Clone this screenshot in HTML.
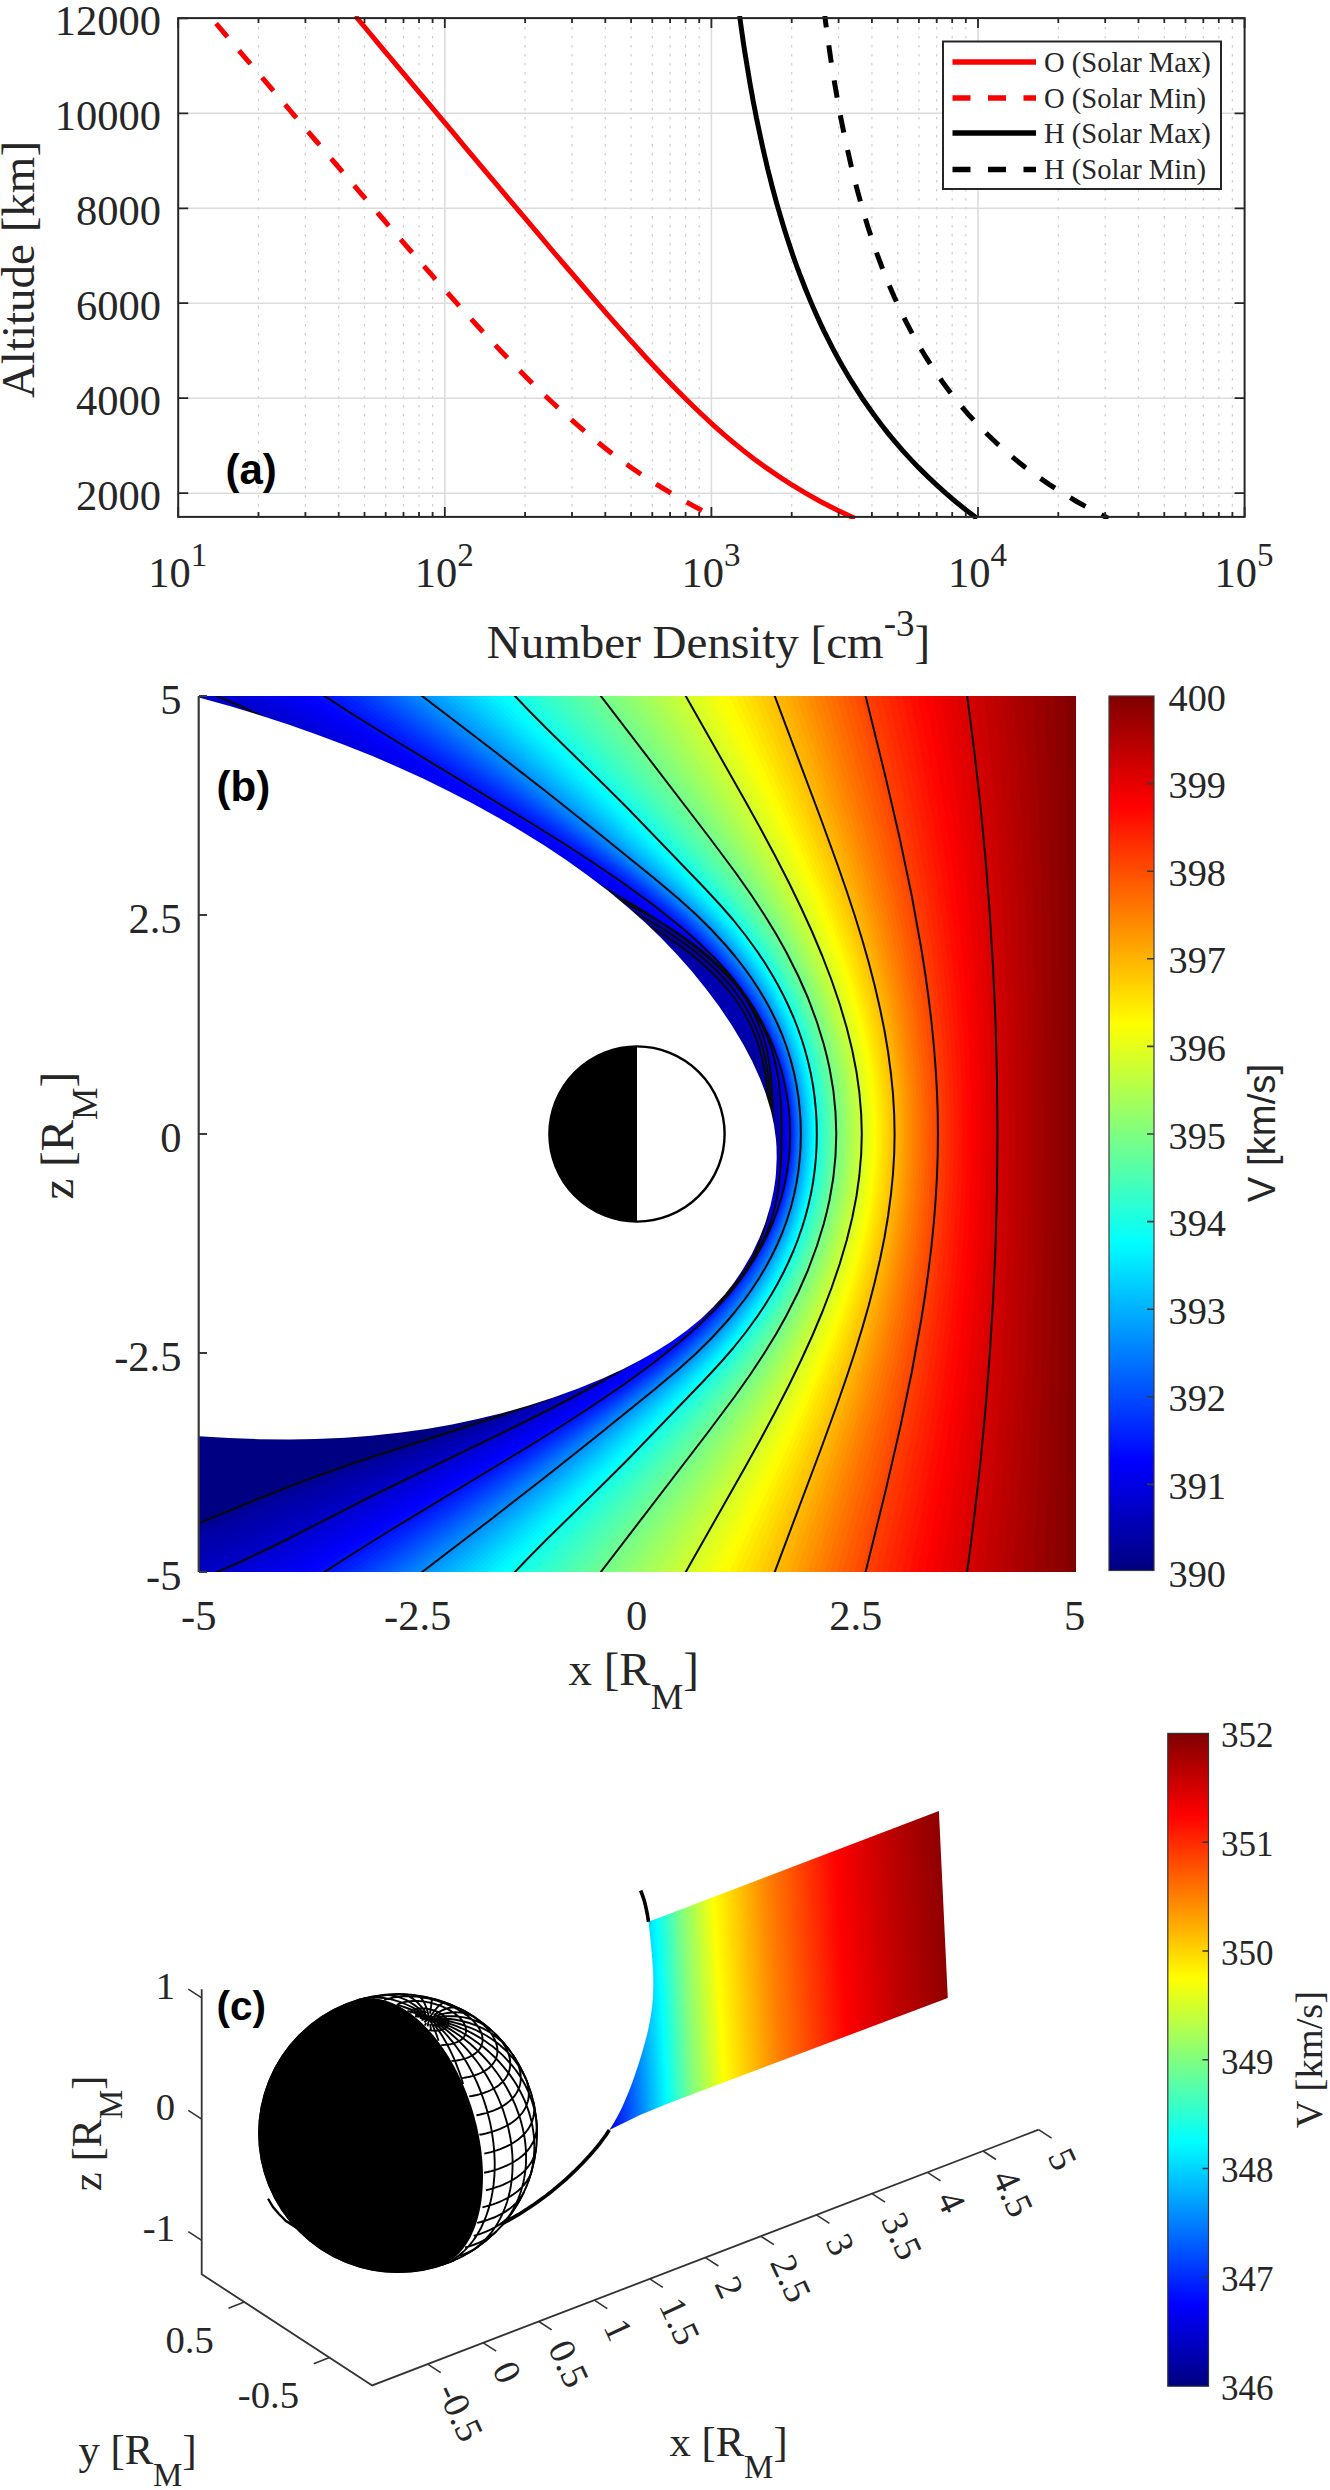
<!DOCTYPE html>
<html><head><meta charset="utf-8"><title>Figure</title>
<style>html,body{margin:0;padding:0;background:#fff}svg{display:block}</style>
</head><body>
<svg width="1330" height="2490" viewBox="0 0 1330 2490">
<rect width="1330" height="2490" fill="#fff"/>
<g id="pa">
<rect x="178.2" y="18.1" width="1066.4" height="498.8" fill="#fff"/>
<path d="M258.5,18.1 V516.9 M305.4,18.1 V516.9 M338.7,18.1 V516.9 M364.5,18.1 V516.9 M385.7,18.1 V516.9 M403.5,18.1 V516.9 M419,18.1 V516.9 M432.6,18.1 V516.9 M525.1,18.1 V516.9 M572,18.1 V516.9 M605.3,18.1 V516.9 M631.1,18.1 V516.9 M652.3,18.1 V516.9 M670.1,18.1 V516.9 M685.6,18.1 V516.9 M699.2,18.1 V516.9 M791.7,18.1 V516.9 M838.6,18.1 V516.9 M871.9,18.1 V516.9 M897.7,18.1 V516.9 M918.9,18.1 V516.9 M936.7,18.1 V516.9 M952.2,18.1 V516.9 M965.8,18.1 V516.9 M1058.3,18.1 V516.9 M1105.2,18.1 V516.9 M1138.5,18.1 V516.9 M1164.3,18.1 V516.9 M1185.5,18.1 V516.9 M1203.3,18.1 V516.9 M1218.8,18.1 V516.9 M1232.4,18.1 V516.9" stroke="#cfcfcf" stroke-width="1.2" stroke-dasharray="2.5,6.5" fill="none"/>
<path d="M444.8,18.1 V516.9 M711.4,18.1 V516.9 M978,18.1 V516.9 M178.2,493.2 H1244.6 M178.2,398.2 H1244.6 M178.2,303.2 H1244.6 M178.2,208.3 H1244.6 M178.2,113.3 H1244.6" stroke="#dcdcdc" stroke-width="1.6" fill="none"/>
<clipPath id="cpa"><rect x="178.2" y="16.1" width="1066.4" height="502.8"/></clipPath>
<g clip-path="url(#cpa)" fill="none" stroke-width="5">
<path d="M355.3,16 L362.5,24.5 L369.6,33 L376.7,41.6 L383.8,50.1 L391,58.6 L398.1,67.1 L405.3,75.6 L412.4,84.1 L419.5,92.7 L426.7,101.2 L433.8,109.7 L440.9,118.2 L448.1,126.7 L455.2,135.2 L462.4,143.8 L469.5,152.3 L476.7,160.8 L483.8,169.3 L491,177.8 L498.2,186.3 L505.3,194.9 L512.5,203.4 L519.7,211.9 L526.9,220.4 L534.1,228.9 L541.3,237.4 L548.5,246 L555.7,254.5 L563,263 L570.3,271.5 L577.6,280 L584.9,288.5 L592.3,297.1 L599.7,305.6 L607.1,314.1 L614.6,322.6 L622.2,331.1 L629.8,339.6 L637.5,348.2 L645.2,356.7 L653.1,365.2 L661.1,373.7 L669.3,382.2 L677.6,390.7 L686.1,399.3 L694.8,407.8 L703.8,416.3 L713,424.8 L722.6,433.3 L732.6,441.8 L743.1,450.4 L754.1,458.9 L765.7,467.4 L778,475.9 L791.1,484.4 L805.2,492.9 L820.4,501.5 L837,510 L855,518.5" stroke="#fa0000"/>
<path d="M216.1,23.5 L223.2,31.9 L230.4,40.3 L237.5,48.7 L244.6,57.1 L251.8,65.4 L258.9,73.8 L266,82.2 L273.2,90.6 L280.3,99 L287.5,107.4 L294.6,115.8 L301.8,124.2 L308.9,132.6 L316.1,141 L323.2,149.3 L330.4,157.7 L337.6,166.1 L344.7,174.5 L351.9,182.9 L359.1,191.3 L366.3,199.7 L373.6,208.1 L380.8,216.5 L388,224.9 L395.3,233.2 L402.6,241.6 L409.9,250 L417.2,258.4 L424.5,266.8 L431.9,275.2 L439.3,283.6 L446.8,292 L454.3,300.4 L461.8,308.8 L469.4,317.1 L477.1,325.5 L484.8,333.9 L492.7,342.3 L500.6,350.7 L508.6,359.1 L516.7,367.5 L525,375.9 L533.4,384.3 L542,392.7 L550.8,401 L559.8,409.4 L569.1,417.8 L578.7,426.2 L588.5,434.6 L598.8,443 L609.4,451.4 L620.5,459.8 L632.2,468.2 L644.5,476.6 L657.4,484.9 L671.1,493.3 L685.7,501.7 L701.3,510.1 L718,518.5" stroke="#fa0000" stroke-dasharray="17.5,18"/>
<path d="M739.6,16 L740.8,24.5 L742,33 L743.2,41.6 L744.5,50.1 L745.9,58.6 L747.3,67.1 L748.7,75.6 L750.1,84.1 L751.7,92.7 L753.2,101.2 L754.9,109.7 L756.5,118.2 L758.3,126.7 L760.1,135.2 L761.9,143.8 L763.8,152.3 L765.8,160.8 L767.8,169.3 L770,177.8 L772.1,186.3 L774.4,194.9 L776.7,203.4 L779.2,211.9 L781.7,220.4 L784.3,228.9 L787,237.4 L789.8,246 L792.6,254.5 L795.6,263 L798.7,271.5 L802,280 L805.3,288.5 L808.8,297.1 L812.4,305.6 L816.1,314.1 L820,322.6 L824,331.1 L828.3,339.6 L832.6,348.2 L837.2,356.7 L841.9,365.2 L846.9,373.7 L852,382.2 L857.4,390.7 L863,399.3 L868.9,407.8 L875,416.3 L881.4,424.8 L888.1,433.3 L895.2,441.8 L902.5,450.4 L910.3,458.9 L918.4,467.4 L927,475.9 L936,484.4 L945.4,492.9 L955.4,501.5 L966,510 L977.2,518.5" stroke="#000"/>
<path d="M824.8,16 L825.9,24.5 L827.1,33 L828.3,41.6 L829.5,50.1 L830.7,58.6 L832,67.1 L833.4,75.6 L834.8,84.1 L836.3,92.7 L837.8,101.2 L839.3,109.7 L840.9,118.2 L842.6,126.7 L844.4,135.2 L846.2,143.8 L848.1,152.3 L850,160.8 L852,169.3 L854.1,177.8 L856.3,186.3 L858.6,194.9 L860.9,203.4 L863.4,211.9 L865.9,220.4 L868.6,228.9 L871.4,237.4 L874.2,246 L877.2,254.5 L880.4,263 L883.6,271.5 L887,280 L890.6,288.5 L894.3,297.1 L898.2,305.6 L902.2,314.1 L906.5,322.6 L910.9,331.1 L915.6,339.6 L920.5,348.2 L925.6,356.7 L931,365.2 L936.7,373.7 L942.7,382.2 L949,390.7 L955.6,399.3 L962.7,407.8 L970.1,416.3 L978,424.8 L986.3,433.3 L995.2,441.8 L1004.6,450.4 L1014.7,458.9 L1025.4,467.4 L1036.9,475.9 L1049.1,484.4 L1062.3,492.9 L1076.6,501.5 L1091.9,510 L1108.5,518.5" stroke="#000" stroke-dasharray="17.5,18" stroke-dashoffset="6"/>
</g>
<path d="M178.2,516.9 v-10 M178.2,18.1 v10 M258.5,516.9 v-5 M258.5,18.1 v5 M305.4,516.9 v-5 M305.4,18.1 v5 M338.7,516.9 v-5 M338.7,18.1 v5 M364.5,516.9 v-5 M364.5,18.1 v5 M385.7,516.9 v-5 M385.7,18.1 v5 M403.5,516.9 v-5 M403.5,18.1 v5 M419,516.9 v-5 M419,18.1 v5 M432.6,516.9 v-5 M432.6,18.1 v5 M444.8,516.9 v-10 M444.8,18.1 v10 M525.1,516.9 v-5 M525.1,18.1 v5 M572,516.9 v-5 M572,18.1 v5 M605.3,516.9 v-5 M605.3,18.1 v5 M631.1,516.9 v-5 M631.1,18.1 v5 M652.3,516.9 v-5 M652.3,18.1 v5 M670.1,516.9 v-5 M670.1,18.1 v5 M685.6,516.9 v-5 M685.6,18.1 v5 M699.2,516.9 v-5 M699.2,18.1 v5 M711.4,516.9 v-10 M711.4,18.1 v10 M791.7,516.9 v-5 M791.7,18.1 v5 M838.6,516.9 v-5 M838.6,18.1 v5 M871.9,516.9 v-5 M871.9,18.1 v5 M897.7,516.9 v-5 M897.7,18.1 v5 M918.9,516.9 v-5 M918.9,18.1 v5 M936.7,516.9 v-5 M936.7,18.1 v5 M952.2,516.9 v-5 M952.2,18.1 v5 M965.8,516.9 v-5 M965.8,18.1 v5 M978,516.9 v-10 M978,18.1 v10 M1058.3,516.9 v-5 M1058.3,18.1 v5 M1105.2,516.9 v-5 M1105.2,18.1 v5 M1138.5,516.9 v-5 M1138.5,18.1 v5 M1164.3,516.9 v-5 M1164.3,18.1 v5 M1185.5,516.9 v-5 M1185.5,18.1 v5 M1203.3,516.9 v-5 M1203.3,18.1 v5 M1218.8,516.9 v-5 M1218.8,18.1 v5 M1232.4,516.9 v-5 M1232.4,18.1 v5 M1244.6,516.9 v-10 M1244.6,18.1 v10 M178.2,493.2 h10 M1244.6,493.2 h-10 M178.2,398.2 h10 M1244.6,398.2 h-10 M178.2,303.2 h10 M1244.6,303.2 h-10 M178.2,208.3 h10 M1244.6,208.3 h-10 M178.2,113.3 h10 M1244.6,113.3 h-10 M178.2,18.3 h10 M1244.6,18.3 h-10" stroke="#262626" stroke-width="1.8" fill="none"/>
<rect x="178.2" y="18.1" width="1066.4" height="498.8" fill="none" stroke="#262626" stroke-width="2"/>
<g font-family="Liberation Serif, serif" font-size="42.5" fill="#262626">
<text x="161" y="510" text-anchor="end">2000</text>
<text x="161" y="415" text-anchor="end">4000</text>
<text x="161" y="320.1" text-anchor="end">6000</text>
<text x="161" y="225.1" text-anchor="end">8000</text>
<text x="161" y="130.1" text-anchor="end">10000</text>
<text x="161" y="35.1" text-anchor="end">12000</text>
<text x="177.7" y="587" text-anchor="middle">10<tspan font-size="33" dy="-21.5">1</tspan></text>
<text x="444.3" y="587" text-anchor="middle">10<tspan font-size="33" dy="-21.5">2</tspan></text>
<text x="710.9" y="587" text-anchor="middle">10<tspan font-size="33" dy="-21.5">3</tspan></text>
<text x="977.5" y="587" text-anchor="middle">10<tspan font-size="33" dy="-21.5">4</tspan></text>
<text x="1244.1" y="587" text-anchor="middle">10<tspan font-size="33" dy="-21.5">5</tspan></text>
</g>
<g font-family="Liberation Serif, serif" font-size="47" fill="#262626">
<text x="708.5" y="657.5" text-anchor="middle">Number Density [cm<tspan font-size="37" dy="-22">-3</tspan><tspan dy="22">]</tspan></text>
<text transform="translate(34,269.5) rotate(-90)" text-anchor="middle">Altitude [km]</text>
</g>
<text x="225.5" y="484" font-family="Liberation Sans, sans-serif" font-weight="bold" font-size="42" fill="#000">(a)</text>
<rect x="943" y="41.5" width="278" height="147.5" fill="#fff" stroke="#262626" stroke-width="2"/>
<path d="M952.5,61.9 H1036" stroke="#fa0000" stroke-width="5.5" fill="none"/>
<text x="1044" y="71.6" font-family="Liberation Serif, serif" font-size="28.6" fill="#262626">O (Solar Max)</text>
<path d="M952.5,98 H1036" stroke="#fa0000" stroke-width="5.5" stroke-dasharray="18,17.5" fill="none"/>
<text x="1044" y="107.7" font-family="Liberation Serif, serif" font-size="28.6" fill="#262626">O (Solar Min)</text>
<path d="M952.5,132.9 H1036" stroke="#000" stroke-width="5.5" fill="none"/>
<text x="1044" y="142.6" font-family="Liberation Serif, serif" font-size="28.6" fill="#262626">H (Solar Max)</text>
<path d="M952.5,169.5 H1036" stroke="#000" stroke-width="5.5" stroke-dasharray="18,17.5" fill="none"/>
<text x="1044" y="179.2" font-family="Liberation Serif, serif" font-size="28.6" fill="#262626">H (Solar Min)</text>
</g>
<g id="pb">
<clipPath id="cpb"><rect x="199" y="696" width="877" height="876"/></clipPath>
<g clip-path="url(#cpb)">
<rect x="199" y="694" width="877" height="880" fill="#000083"/>
<path d="M169,694 L169,706 L169,721 L257.5,772 L312.5,793 L355.7,808 L475.4,847 L526.3,865 L549.5,874 L578.2,886 L598,895 L614.6,904 L579.7,907 L596.2,916 L611.4,925 L625.2,934 L637.8,943 L649.3,952 L659.5,961 L668.7,970 L679.5,982 L686.4,991 L694.3,1003 L699.3,1012 L704.8,1024 L709.1,1036 L712.4,1048 L714.8,1060 L716.5,1072 L756.8,1075 L760.1,1084 L764.2,1120 L765,1135 L764.3,1147 L760.2,1183 L759.6,1186 L757.2,1192 L716.6,1195 L715,1207 L712.6,1219 L709.4,1231 L705.2,1243 L699.8,1255 L694.9,1264 L687.1,1276 L680.3,1285 L669.7,1297 L660.6,1306 L650.5,1315 L639.2,1324 L626.7,1333 L613,1342 L598,1351 L581.6,1360 L616.3,1363 L600.1,1372 L580.5,1381 L552,1393 L529,1402 L478.4,1420 L358.7,1459 L307,1477 L252.5,1498 L169,1534 L169,1549 L169,1561 L169,1573 L1081,1573 L1081,694 Z" fill="#00008b"/>
<path d="M169,694 L169,706 L169,721 L258.2,769 L312.4,790 L354.6,805 L463.3,841 L497.6,853 L530,865 L560,877 L594.1,892 L612,901 L627.5,910 L636.7,916 L601.4,919 L625.2,934 L637.8,943 L649.3,952 L665.8,967 L674.3,976 L681.9,985 L688.5,994 L694.3,1003 L699.3,1012 L704.8,1024 L708.1,1033 L711.6,1045 L713.7,1054 L715.7,1066 L756.8,1069 L760.5,1078 L762.5,1084 L769.2,1120 L770.3,1129 L770.5,1135 L769.4,1147 L762.7,1183 L760.9,1189 L755.9,1201 L715.4,1204 L713.3,1216 L711.1,1225 L707.4,1237 L703.9,1246 L699.8,1255 L694.9,1264 L689.2,1273 L682.6,1282 L675.2,1291 L666.8,1300 L650.5,1315 L639.2,1324 L626.7,1333 L603.1,1348 L638.1,1351 L629.1,1357 L613.9,1366 L596.3,1375 L562.4,1390 L532.6,1402 L500.4,1414 L466.2,1426 L421.8,1441 L357.5,1462 L315.1,1477 L260.7,1498 L173.2,1534 L169,1549 L169,1561 L169,1573 L1081,1573 L1081,694 Z" fill="#000093"/>
<path d="M169,694 L169,706 L169,721 L269.1,769 L322.5,790 L364.1,805 L426.7,826 L461.1,838 L502.3,853 L533.7,865 L569.9,880 L596.5,892 L614.5,901 L635.2,913 L644.3,919 L656.3,928 L620.8,931 L637.8,943 L656.2,958 L671.6,973 L684.2,988 L694.3,1003 L699.3,1012 L703.5,1021 L707.1,1030 L710,1039 L714.3,1057 L755.2,1060 L760.5,1072 L764.9,1084 L772.2,1117 L773.1,1126 L773.4,1135 L773,1144 L771.8,1153 L765.1,1183 L762.1,1192 L755.7,1207 L714.4,1210 L710.3,1228 L707.4,1237 L703.9,1246 L699.8,1255 L694.9,1264 L684.9,1279 L672.5,1294 L657.3,1309 L639.2,1324 L617.7,1339 L653.8,1342 L636.8,1354 L616.4,1366 L598.7,1375 L572.2,1387 L536.2,1402 L505,1414 L463.9,1429 L429.6,1441 L358.4,1465 L317.3,1480 L271.5,1498 L169,1546 L169,1561 L169,1573 L1081,1573 L1081,694 Z" fill="#00009b"/>
<path d="M169,694 L169,706 L169,721 L282.4,769 L327,787 L366.7,802 L426.7,823 L459.8,835 L499.4,850 L537.4,865 L572.6,880 L605,895 L627.8,907 L642.8,916 L659.6,928 L674,940 L637.8,943 L652.8,955 L665.8,967 L676.9,979 L686.4,991 L694.3,1003 L702.2,1018 L708.1,1033 L712.4,1048 L753.4,1051 L761.6,1069 L767,1084 L771.6,1102 L773.4,1111 L774.9,1123 L775.4,1135 L775,1144 L773.6,1156 L771.8,1165 L767.3,1183 L762,1198 L753.9,1216 L712.6,1219 L708.4,1234 L702.6,1249 L694.9,1264 L687.1,1276 L675.2,1291 L663.8,1303 L650.5,1315 L635.1,1327 L671.7,1330 L657,1342 L644.4,1351 L629.6,1360 L607.1,1372 L574.9,1387 L539.8,1402 L509.8,1414 L462.5,1432 L429.6,1444 L369.5,1465 L329.6,1480 L277.6,1501 L171.2,1546 L169,1561 L169,1573 L1081,1573 L1081,694 Z" fill="#0000a3"/>
<path d="M169,694 L169,706 L187.1,721 L297.5,769 L340.7,787 L379,802 L459.7,832 L504.8,850 L541,865 L575.3,880 L607,895 L630,907 L650.1,919 L658.6,925 L670.3,934 L680.6,943 L689.8,952 L652.8,955 L662.7,964 L671.6,973 L679.5,982 L688.5,994 L694.3,1003 L700.7,1015 L705.9,1027 L710,1039 L751.4,1042 L761.4,1063 L766.1,1075 L769.1,1084 L773,1099 L775.3,1111 L776.6,1123 L777,1135 L776.4,1147 L775,1159 L772.5,1171 L769.4,1183 L766.5,1192 L761.8,1204 L756.4,1216 L750.3,1228 L709.4,1231 L705.2,1243 L701.2,1252 L694.9,1264 L689.2,1273 L680.3,1285 L672.5,1294 L663.8,1303 L654,1312 L690.8,1315 L681.7,1324 L671.5,1333 L660,1342 L651.6,1348 L631.8,1360 L609.1,1372 L577.5,1387 L543.3,1402 L507.2,1417 L462.3,1435 L381.6,1465 L343.2,1480 L292.9,1501 L189.5,1546 L169,1561 L169,1573 L1081,1573 L1081,694 Z" fill="#0000ab"/>
<path d="M169,694 L170.7,706 L206.8,721 L306.7,766 L355.2,787 L391.8,802 L460.5,829 L537.8,862 L577.7,880 L608.9,895 L637.2,910 L647.5,916 L656.9,922 L673.1,934 L687,946 L698.9,958 L711.7,973 L674.3,976 L684.2,988 L692.4,1000 L699.3,1012 L704.8,1024 L746.1,1027 L754,1042 L761.1,1057 L766,1069 L770.1,1081 L774.1,1096 L776.4,1108 L777.8,1120 L778.3,1132 L777.8,1147 L776.6,1159 L774.3,1171 L770.4,1186 L766.4,1198 L761.5,1210 L754.5,1225 L746.7,1240 L705.2,1243 L698.2,1258 L691.2,1270 L682.6,1282 L672.5,1294 L710.1,1297 L697,1312 L684.8,1324 L670.6,1336 L658.3,1345 L649.2,1351 L639,1357 L610.8,1372 L579.8,1387 L540,1405 L462.9,1438 L394.3,1465 L350.4,1483 L309,1501 L209.1,1546 L173.2,1561 L169,1573 L1081,1573 L1081,694 Z" fill="#0000b3"/>
<path d="M169,694 L192,706 L220.1,718 L246.6,730 L316.6,763 L349.3,778 L397.4,799 L468.9,829 L535.2,859 L586.1,883 L622,901 L649.1,916 L667.5,928 L675.6,934 L686.5,943 L696.2,952 L704.8,961 L712.6,970 L722,982 L732.6,997 L738,1006 L752,1033 L759.3,1048 L765.7,1063 L770.1,1075 L774.4,1090 L776.9,1102 L778.7,1117 L779.4,1132 L779,1147 L777.5,1162 L774.6,1177 L770.4,1192 L766.1,1204 L759.7,1219 L752.5,1234 L738.5,1261 L733.2,1270 L725,1282 L715.9,1294 L705.7,1306 L697.2,1315 L687.6,1324 L676.8,1333 L668.9,1339 L650.8,1351 L623.9,1366 L588.2,1384 L537.4,1408 L471.2,1438 L392.7,1471 L351.6,1489 L222.3,1549 L194.4,1561 L169,1573 L1081,1573 L1081,694 Z" fill="#0000bb"/>
<path d="M183.2,694 L212.4,706 L239.4,718 L265,730 L332.3,763 L363.9,778 L403.2,796 L470.6,826 L508.7,844 L582,880 L623.1,901 L655.2,919 L673.4,931 L681.4,937 L692.2,946 L701.8,955 L710.4,964 L718.1,973 L727.4,985 L735.8,997 L741,1006 L754.4,1033 L761.4,1048 L767.7,1063 L771.8,1075 L776,1090 L778.3,1102 L779.9,1117 L780.4,1132 L780.1,1147 L778.8,1162 L776.8,1174 L773.1,1189 L768,1204 L761.9,1219 L754.9,1234 L741.6,1261 L736.4,1270 L728.1,1282 L718.9,1294 L711.3,1303 L702.8,1312 L693.3,1321 L682.6,1330 L674.7,1336 L656.8,1348 L624.9,1366 L584,1387 L517,1420 L472.8,1441 L405.4,1471 L359.7,1492 L267,1537 L241.6,1549 L214.7,1561 L185.7,1573 L1081,1573 L1081,694 Z" fill="#0000c3"/>
<path d="M202.5,694 L230.6,706 L263,721 L364.7,772 L408.5,793 L472.4,823 L509,841 L584.2,880 L629.4,904 L660.5,922 L670,928 L682.8,937 L690.5,943 L700.8,952 L710,961 L718.2,970 L727.9,982 L736.6,994 L740.4,1000 L745.2,1009 L763.5,1048 L769.5,1063 L773.5,1075 L777.4,1090 L779.5,1102 L781,1117 L781.5,1132 L781.2,1147 L780,1162 L777.6,1177 L774.7,1189 L770.9,1201 L765.2,1216 L758.5,1231 L745.7,1258 L741,1267 L737.3,1273 L728.7,1285 L719.1,1297 L711,1306 L701.9,1315 L691.7,1324 L684.1,1330 L671.5,1339 L662.1,1345 L631.2,1363 L591.9,1384 L510.9,1426 L474.5,1444 L366.8,1495 L265,1546 L232.8,1561 L204.9,1573 L1081,1573 L1081,694 Z" fill="#0000cb"/>
<path d="M218.7,694 L245.8,706 L277,721 L376.1,772 L480.1,823 L509.4,838 L554,862 L640.4,910 L670.3,928 L683.5,937 L691.5,943 L698.9,949 L708.8,958 L722.9,973 L730.2,982 L738.9,994 L742.7,1000 L747.5,1009 L765.3,1048 L771.2,1063 L775.1,1075 L778.1,1087 L780.7,1102 L782.1,1117 L782.6,1132 L782.4,1147 L781.2,1162 L778.9,1177 L776.2,1189 L772.6,1201 L768.2,1213 L761.9,1228 L753.6,1246 L746.5,1261 L741.5,1270 L735.4,1279 L728.6,1288 L721.1,1297 L712.8,1306 L703.4,1315 L692.8,1324 L684.9,1330 L671.8,1339 L642.2,1357 L561.2,1402 L511.3,1429 L476.1,1447 L372.2,1498 L279.1,1546 L247.9,1561 L221.1,1573 L1081,1573 L1081,694 Z" fill="#0000d3"/>
<path d="M234.1,694 L259.9,706 L290.1,721 L381,769 L481.7,820 L515.8,838 L558.4,862 L645.8,913 L675,931 L695.8,946 L703.2,952 L713,961 L727,976 L734.2,985 L742.8,997 L750.8,1012 L761.9,1036 L768.3,1051 L772.8,1063 L776.5,1075 L779.3,1087 L781.8,1102 L783.2,1117 L783.7,1132 L783.4,1147 L782.3,1162 L780.1,1177 L777.6,1189 L775.1,1198 L771,1210 L764.9,1225 L758.3,1240 L746.8,1264 L741.4,1273 L735,1282 L725.3,1294 L717.1,1303 L707.7,1312 L697.1,1321 L685.2,1330 L676.5,1336 L647.5,1354 L560.1,1405 L517.6,1429 L483.7,1447 L377.2,1501 L292.1,1546 L262,1561 L236.3,1573 L1081,1573 L1081,694 Z" fill="#0000db"/>
<path d="M249.1,694 L273.6,706 L302.7,721 L385.8,766 L489.2,820 L527.5,841 L568.3,865 L665.7,925 L683.9,937 L699.8,949 L710.3,958 L719.7,967 L728.1,976 L735.4,985 L742,994 L747.6,1003 L758,1024 L766.2,1042 L771.1,1054 L774.3,1063 L777.7,1075 L780.4,1087 L782.8,1102 L784.2,1117 L784.8,1132 L784.5,1147 L783.6,1159 L781.7,1174 L779.4,1186 L776.4,1198 L772.6,1210 L767.9,1222 L762.6,1234 L749.8,1261 L744.6,1270 L738.4,1279 L728.9,1291 L720.7,1300 L711.4,1309 L701,1318 L685.3,1330 L667.3,1342 L569.9,1402 L523.9,1429 L491.1,1447 L387.7,1501 L298.9,1549 L275.6,1561 L251.2,1573 L1081,1573 L1081,694 Z" fill="#0000e3"/>
<path d="M263.5,694 L303.7,715 L395.9,766 L496.4,820 L538.8,844 L582.8,871 L651.3,916 L675.2,931 L688.2,940 L703.6,952 L713.8,961 L722.9,970 L731.1,979 L738.3,988 L744.6,997 L750.2,1006 L756.5,1018 L763.7,1033 L768.9,1045 L773.5,1057 L777.2,1069 L780.2,1081 L782.5,1093 L784.1,1105 L785.2,1117 L785.8,1132 L785.5,1147 L784.6,1159 L783.1,1171 L781,1183 L778.3,1195 L774.8,1207 L771.7,1216 L766.8,1228 L759.9,1243 L752.4,1258 L747.2,1267 L741.2,1276 L731.9,1288 L723.9,1297 L714.9,1306 L704.8,1315 L689.5,1327 L672.2,1339 L652.8,1351 L584.4,1396 L560.4,1411 L535.4,1426 L498.2,1447 L397.8,1501 L311.1,1549 L265.5,1573 L1081,1573 L1081,694 Z" fill="#0000eb"/>
<path d="M277.3,694 L315.5,715 L405.5,766 L503.3,820 L549.6,847 L583.2,868 L614.8,889 L657.2,919 L684.2,937 L696.3,946 L707.2,955 L717.1,964 L725.9,973 L733.8,982 L740.7,991 L748.8,1003 L754.3,1012 L760.6,1024 L766.3,1036 L771.3,1048 L775.4,1060 L778.9,1072 L781.7,1084 L783.8,1096 L785.4,1108 L786.4,1120 L786.7,1132 L786.5,1144 L785.8,1156 L784.4,1168 L782.5,1180 L779.9,1192 L776.7,1204 L772.7,1216 L768,1228 L762.6,1240 L754.8,1255 L749.5,1264 L741.4,1276 L734.6,1285 L726.8,1294 L718.1,1303 L708.4,1312 L697.6,1321 L685.6,1330 L654.3,1351 L616.2,1378 L584.8,1399 L551.3,1420 L505.1,1447 L407.3,1501 L317.2,1552 L279.2,1573 L1081,1573 L1081,694 Z" fill="#0000f3"/>
<path d="M290.2,694 L404.1,760 L515,823 L564.9,853 L597.5,874 L627.9,895 L660.3,919 L685.4,937 L696.9,946 L707.6,955 L723.3,970 L731.5,979 L738.7,988 L753.1,1009 L759.9,1021 L765.8,1033 L770.9,1045 L775.2,1057 L778.9,1069 L781.9,1081 L784.2,1093 L786,1105 L787.1,1117 L787.6,1132 L787.3,1147 L786.4,1159 L784.9,1171 L782.7,1183 L779.9,1195 L776.5,1207 L772.4,1219 L767.6,1231 L762,1243 L755.5,1255 L749.9,1264 L739.4,1279 L732.3,1288 L724.3,1297 L708.7,1312 L698.1,1321 L686.7,1330 L657.6,1351 L629.3,1372 L599,1393 L566.5,1414 L542.1,1429 L511.6,1447 L400.6,1510 L292,1573 L1081,1573 L1081,694 Z" fill="#0000fb"/>
<path d="M302.1,694 L392.2,748 L521,823 L550.8,841 L574.8,856 L611.1,880 L640.7,901 L684,934 L705.4,952 L715,961 L723.9,970 L731.9,979 L739,988 L749.6,1003 L755.4,1012 L760.4,1021 L766.4,1033 L771.5,1045 L775.9,1057 L779.6,1069 L782.6,1081 L785,1093 L786.8,1105 L787.9,1117 L788.5,1132 L788.2,1147 L787.3,1159 L785.7,1171 L783.5,1183 L779.9,1198 L776.2,1210 L771.9,1222 L766.8,1234 L761,1246 L756,1255 L750.3,1264 L739.8,1279 L732.7,1288 L724.8,1297 L716,1306 L706.5,1315 L685.2,1333 L642.1,1366 L612.6,1387 L576.3,1411 L552.4,1426 L522.7,1444 L393.9,1519 L303.8,1573 L1081,1573 L1081,694 Z" fill="#0004ff"/>
<path d="M312.8,694 L346.1,715 L385.4,739 L531.4,826 L560.5,844 L588.6,862 L619.8,883 L648.9,904 L679.6,928 L703.8,949 L716.2,961 L724.7,970 L732.5,979 L739.6,988 L753.9,1009 L760.8,1021 L766.8,1033 L772,1045 L776.5,1057 L780.3,1069 L784.1,1084 L786.3,1096 L788,1108 L789,1120 L789.4,1135 L788.9,1150 L787.7,1162 L786,1174 L783.6,1186 L779.7,1201 L775.8,1213 L771.2,1225 L765.9,1237 L759.8,1249 L754.6,1258 L748.8,1267 L738.1,1282 L730.8,1291 L722.9,1300 L714.2,1309 L701.6,1321 L680.8,1339 L650.2,1363 L621.2,1384 L585.6,1408 L557.3,1426 L528.1,1444 L387,1528 L347.7,1552 L314.4,1573 L1081,1573 L1081,694 Z" fill="#000cff"/>
<path d="M322.1,694 L354.5,715 L388.1,736 L536.2,826 L592.5,862 L627.6,886 L656.1,907 L682.2,928 L702.4,946 L714.6,958 L723,967 L730.8,976 L740.3,988 L748.7,1000 L756.2,1012 L762.9,1024 L768.8,1036 L773.9,1048 L778.2,1060 L781.9,1072 L784.9,1084 L787.1,1096 L788.8,1108 L789.8,1120 L790.2,1135 L789.7,1150 L788.6,1162 L786.8,1174 L784.4,1186 L780.5,1201 L776.5,1213 L771.8,1225 L766.4,1237 L760.2,1249 L753.2,1261 L745.3,1273 L738.8,1282 L729.1,1294 L721.2,1303 L712.6,1312 L700.2,1324 L679.8,1342 L653.5,1363 L624.7,1384 L589.5,1408 L556.9,1429 L523.2,1450 L380.1,1537 L323.6,1573 L1081,1573 L1081,694 Z" fill="#0014ff"/>
<path d="M330.4,694 L381,727 L526.3,817 L564,841 L595.9,862 L630.5,886 L658.7,907 L680.8,925 L700.8,943 L712.9,955 L721.3,964 L731.7,976 L741,988 L747.5,997 L756.8,1012 L763.5,1024 L769.4,1036 L774.6,1048 L779,1060 L782.7,1072 L785.6,1084 L787.9,1096 L789.6,1108 L790.6,1120 L791,1135 L790.4,1150 L789.3,1162 L787.6,1174 L785.2,1186 L782.1,1198 L778.3,1210 L773.8,1222 L768.5,1234 L762.4,1246 L755.7,1258 L748.1,1270 L741.8,1279 L732.5,1291 L722.2,1303 L713.9,1312 L701.9,1324 L682,1342 L660,1360 L631.9,1381 L597.4,1405 L570.2,1423 L537.4,1444 L392.1,1534 L359.1,1555 L331.9,1573 L1081,1573 L1081,694 Z" fill="#001cff"/>
<path d="M338.2,694 L387.9,727 L530.6,817 L567.7,841 L599.1,862 L633.3,886 L661.1,907 L682.9,925 L702.4,943 L714.2,955 L725.1,967 L735,979 L744,991 L750.2,1000 L757.5,1012 L764.2,1024 L770.1,1036 L775.3,1048 L779.7,1060 L783.4,1072 L786.4,1084 L788.7,1096 L790.3,1108 L791.3,1120 L791.7,1135 L791.2,1150 L790.1,1162 L788.3,1174 L785.9,1186 L782.9,1198 L779.1,1210 L774.5,1222 L769.2,1234 L763.1,1246 L756.3,1258 L748.9,1270 L742.6,1279 L733.4,1291 L723.4,1303 L712.3,1315 L700.4,1327 L680.6,1345 L658.5,1363 L630.5,1384 L600.5,1405 L541.5,1444 L398.8,1534 L366.4,1555 L339.7,1573 L1081,1573 L1081,694 Z" fill="#0024ff"/>
<path d="M345.5,694 L371.8,712 L399,730 L543.9,823 L575.6,844 L606.4,865 L635.8,886 L663.4,907 L684.9,925 L704,943 L715.6,955 L726.2,967 L735.9,979 L744.9,991 L749.2,997 L758.3,1012 L764.9,1024 L770.9,1036 L776.1,1048 L780.5,1060 L784.2,1072 L787.1,1084 L789.4,1096 L791,1108 L792,1120 L792.4,1135 L791.9,1150 L790.8,1162 L789,1174 L786.7,1186 L783.6,1198 L779.8,1210 L775.2,1222 L769.9,1234 L763.8,1246 L757.1,1258 L749.8,1270 L743.5,1279 L734.4,1291 L724.5,1303 L713.7,1315 L702,1327 L682.6,1345 L660.8,1363 L633.1,1384 L603.5,1405 L540.9,1447 L400.6,1537 L373.3,1555 L346.9,1573 L1081,1573 L1081,694 Z" fill="#002cff"/>
<path d="M352.3,694 L378.3,712 L405.2,730 L543.1,820 L578.8,844 L609.2,865 L638.3,886 L665.5,907 L683.4,922 L702.6,940 L714.2,952 L724.9,964 L734.7,976 L745.9,991 L750.1,997 L759.1,1012 L765.7,1024 L771.6,1036 L776.8,1048 L781.2,1060 L784.9,1072 L787.8,1084 L790.1,1096 L791.7,1108 L792.7,1120 L793.1,1135 L792.5,1150 L791.5,1162 L789.7,1174 L787.4,1186 L784.3,1198 L780.5,1210 L776,1222 L772.1,1231 L766.2,1243 L759.7,1255 L750.7,1270 L746.6,1276 L735.4,1291 L725.7,1303 L715.1,1315 L703.6,1327 L681.1,1348 L663,1363 L635.6,1384 L606.3,1405 L575.9,1426 L540.1,1450 L406.7,1537 L379.7,1555 L353.7,1573 L1081,1573 L1081,694 Z" fill="#0034ff"/>
<path d="M358.8,694 L411,730 L542.3,817 L581.9,844 L611.8,865 L640.6,886 L667.6,907 L685.2,922 L704.1,940 L715.6,952 L726.1,964 L735.8,976 L746.9,991 L751.1,997 L760,1012 L766.5,1024 L772.4,1036 L777.6,1048 L782,1060 L785.6,1072 L788.5,1084 L790.7,1096 L792.3,1108 L793.3,1120 L793.7,1135 L793.2,1150 L792.1,1162 L790.4,1174 L788.1,1186 L785,1198 L781.3,1210 L776.8,1222 L772.9,1231 L767.1,1243 L760.6,1255 L751.7,1270 L747.6,1276 L736.6,1291 L727,1303 L716.5,1315 L705.1,1327 L686.3,1345 L668.8,1360 L641.9,1381 L613.2,1402 L583.3,1423 L543.8,1450 L408,1540 L360.2,1573 L1081,1573 L1081,694 Z" fill="#003cff"/>
<path d="M364.9,694 L412.2,727 L541.5,814 L580.5,841 L614.3,865 L642.8,886 L669.5,907 L687,922 L705.7,940 L717,952 L727.4,964 L737,976 L747.9,991 L752.1,997 L760.9,1012 L767.4,1024 L773.3,1036 L778.4,1048 L782.7,1060 L786.3,1072 L789.2,1084 L791.4,1096 L793,1108 L793.9,1120 L794.3,1135 L793.8,1150 L792.7,1162 L791.1,1174 L788.7,1186 L785.7,1198 L782,1210 L777.6,1222 L773.7,1231 L767.9,1243 L761.5,1255 L752.7,1270 L748.6,1276 L737.7,1291 L728.2,1303 L717.9,1315 L706.7,1327 L688.1,1345 L670.7,1360 L644.1,1381 L615.7,1402 L581.9,1426 L542.9,1453 L413.6,1540 L366.3,1573 L1081,1573 L1081,694 Z" fill="#0044ff"/>
<path d="M370.7,694 L417.6,727 L544.9,814 L616.8,865 L648.9,889 L671.4,907 L688.7,922 L707.2,940 L718.4,952 L728.7,964 L738.2,976 L749.1,991 L753.2,997 L761.9,1012 L768.4,1024 L774.1,1036 L779.2,1048 L783.5,1060 L787,1072 L789.9,1084 L792,1096 L793.6,1108 L794.5,1120 L794.9,1135 L794.4,1150 L793.4,1162 L791.7,1174 L789.4,1186 L786.5,1198 L782.8,1210 L778.4,1222 L774.6,1231 L768.9,1243 L762.5,1255 L753.8,1270 L749.8,1276 L738.9,1291 L729.5,1303 L719.3,1315 L708.2,1327 L689.8,1345 L672.6,1360 L646.3,1381 L618.1,1402 L584.8,1426 L542,1456 L419,1540 L372.1,1573 L1081,1573 L1081,694 Z" fill="#004cff"/>
<path d="M376.3,694 L418.5,724 L544,811 L586.1,841 L623.2,868 L654.7,892 L676.8,910 L693.6,925 L711.6,943 L722.5,955 L732.5,967 L741.7,979 L752.2,994 L757.8,1003 L764.6,1015 L770.8,1027 L776.3,1039 L780,1048 L784.2,1060 L787.7,1072 L790.5,1084 L792.7,1096 L794.2,1108 L795.2,1120 L795.5,1135 L795,1150 L794,1162 L792.4,1174 L790.1,1186 L787.2,1198 L783.6,1210 L779.2,1222 L775.5,1231 L769.8,1243 L763.5,1255 L754.9,1270 L750.9,1276 L740.2,1291 L730.9,1303 L720.7,1315 L709.7,1327 L691.5,1345 L674.4,1360 L652.2,1378 L624.5,1399 L587.5,1426 L545.4,1456 L419.9,1543 L377.7,1573 L1081,1573 L1081,694 Z" fill="#0054ff"/>
<path d="M381.8,694 L423.6,724 L543.1,808 L588.9,841 L629.4,871 L656.7,892 L678.6,910 L695.2,925 L713.1,943 L723.9,955 L733.8,967 L742.9,979 L751.4,991 L755.4,997 L764,1012 L770.3,1024 L775.9,1036 L780.8,1048 L785,1060 L788.4,1072 L791.2,1084 L793.3,1096 L794.8,1108 L795.8,1120 L796.1,1135 L795.6,1150 L794.6,1162 L793,1174 L790.8,1186 L787.9,1198 L784.3,1210 L780.1,1222 L775,1234 L769.3,1246 L762.9,1258 L756,1270 L750,1279 L741.5,1291 L732.2,1303 L722.2,1315 L711.2,1327 L693.1,1345 L676.2,1360 L654.2,1378 L626.8,1399 L590.2,1426 L544.5,1459 L420.8,1546 L383.1,1573 L1081,1573 L1081,694 Z" fill="#005cff"/>
<path d="M387.1,694 L542.3,805 L591.5,841 L631.6,871 L658.6,892 L680.3,910 L696.8,925 L714.6,943 L725.3,955 L735.2,967 L744.2,979 L752.6,991 L758.3,1000 L765.1,1012 L771.3,1024 L776.8,1036 L781.7,1048 L785.8,1060 L789.1,1072 L791.9,1084 L794,1096 L795.5,1108 L796.4,1120 L796.7,1135 L796.4,1147 L795.6,1159 L794.1,1171 L792.1,1183 L789.4,1195 L786.1,1207 L782,1219 L777.3,1231 L771.8,1243 L765.7,1255 L758.9,1267 L753.3,1276 L745,1288 L736,1300 L726.2,1312 L715.5,1324 L697.9,1342 L681.5,1357 L659.9,1375 L633,1396 L592.9,1426 L543.7,1462 L388.5,1573 L1081,1573 L1081,694 Z" fill="#0064ff"/>
<path d="M392.4,694 L541.6,802 L590.2,838 L633.8,871 L660.6,892 L682,910 L698.4,925 L716.1,943 L726.8,955 L736.6,967 L745.6,979 L753.8,991 L759.5,1000 L766.2,1012 L772.3,1024 L777.8,1036 L782.5,1048 L786.5,1060 L789.9,1072 L792.6,1084 L794.6,1096 L796.1,1108 L797,1120 L797.4,1135 L797.1,1147 L796.2,1159 L794.8,1171 L792.8,1183 L790.1,1195 L786.8,1207 L782.9,1219 L778.2,1231 L772.8,1243 L766.8,1255 L760.1,1267 L754.5,1276 L746.3,1288 L737.4,1300 L727.6,1312 L717,1324 L699.5,1342 L683.2,1357 L661.8,1375 L635.1,1396 L591.6,1429 L543,1465 L393.7,1573 L1081,1573 L1081,694 Z" fill="#006cff"/>
<path d="M397.7,694 L541,799 L593,838 L639.9,874 L666.2,895 L687.2,913 L703.1,928 L720.4,946 L738,967 L746.9,979 L755,991 L760.6,1000 L767.4,1012 L773.4,1024 L778.7,1036 L783.4,1048 L787.3,1060 L790.6,1072 L793.3,1084 L795.3,1096 L796.8,1108 L797.7,1120 L798,1135 L797.5,1150 L796.6,1162 L795,1174 L792.9,1186 L790.1,1198 L786.7,1210 L782.7,1222 L777.9,1234 L772.4,1246 L766.3,1258 L759.5,1270 L753.7,1279 L745.5,1291 L736.4,1303 L718.6,1324 L701.1,1342 L684.9,1357 L663.7,1375 L637.3,1396 L590.3,1432 L542.4,1468 L399,1573 L1081,1573 L1081,694 Z" fill="#0074ff"/>
<path d="M403,694 L540.6,796 L591.9,835 L642.1,874 L668.1,895 L688.9,913 L704.8,928 L721.9,946 L739.4,967 L748.2,979 L756.3,991 L761.8,1000 L768.5,1012 L774.4,1024 L779.7,1036 L784.3,1048 L788.2,1060 L791.4,1072 L794,1084 L796,1096 L797.5,1108 L798.3,1120 L798.7,1135 L798.2,1150 L797.3,1162 L795.7,1174 L793.6,1186 L790.9,1198 L787.6,1210 L783.6,1222 L778.9,1234 L773.5,1246 L767.4,1258 L760.6,1270 L755,1279 L746.8,1291 L737.8,1303 L720.1,1324 L702.7,1342 L686.7,1357 L665.7,1375 L643.4,1393 L593.2,1432 L542,1471 L404.4,1573 L1081,1573 L1081,694 Z" fill="#007cff"/>
<path d="M408.5,694 L540.4,793 L594.8,835 L648.2,877 L670.1,895 L690.7,913 L706.4,928 L723.4,946 L740.8,967 L749.5,979 L757.5,991 L763,1000 L769.6,1012 L775.5,1024 L780.7,1036 L785.2,1048 L789,1060 L792.2,1072 L794.8,1084 L796.8,1096 L798.2,1108 L799,1120 L799.4,1135 L799.1,1147 L798.3,1159 L796.9,1171 L795,1183 L792.4,1195 L789.3,1207 L785.5,1219 L781.1,1231 L775.9,1243 L770.1,1255 L763.6,1267 L758.1,1276 L750.2,1288 L741.5,1300 L724.3,1321 L707.4,1339 L691.8,1354 L671.3,1372 L649.4,1390 L596.1,1432 L541.7,1474 L409.8,1573 L1081,1573 L1081,694 Z" fill="#0083ff"/>
<path d="M414.1,694 L489.5,751 L544.3,793 L594.1,832 L650.5,877 L672.2,895 L692.6,913 L708.2,928 L725,946 L742.2,967 L750.8,979 L758.7,991 L770.7,1012 L776.5,1024 L781.7,1036 L786.1,1048 L789.9,1060 L793,1072 L795.6,1084 L797.5,1096 L798.9,1108 L799.8,1120 L800.1,1135 L799.8,1147 L799,1159 L797.7,1171 L795.8,1183 L793.3,1195 L790.2,1207 L786.4,1219 L782,1231 L777,1243 L771.2,1255 L759.4,1276 L751.5,1288 L742.9,1300 L725.9,1321 L709.1,1339 L693.7,1354 L673.4,1372 L651.7,1390 L595.3,1435 L541.7,1477 L486.9,1519 L415.5,1573 L1081,1573 L1081,694 Z" fill="#008bff"/>
<path d="M420,694 L490.5,748 L544.5,790 L593.6,829 L652.9,877 L674.4,895 L694.6,913 L709.9,928 L726.6,946 L743.5,967 L752.1,979 L759.9,991 L771.8,1012 L777.6,1024 L782.6,1036 L787,1048 L790.8,1060 L793.9,1072 L796.4,1084 L798.3,1096 L799.7,1108 L800.6,1120 L800.9,1135 L800.6,1147 L799.8,1159 L798.5,1171 L796.6,1183 L794.1,1195 L791.1,1207 L787.4,1219 L783,1231 L778,1243 L772.3,1255 L760.6,1276 L752.8,1288 L744.3,1300 L727.4,1321 L710.9,1339 L695.6,1354 L675.6,1372 L654.1,1390 L594.8,1438 L545.7,1477 L491.8,1519 L421.3,1573 L1081,1573 L1081,694 Z" fill="#0093ff"/>
<path d="M425.9,694 L495.4,748 L548.6,790 L596.9,829 L659,880 L680,898 L699.7,916 L714.6,931 L728.1,946 L744.9,967 L753.4,979 L761.1,991 L772.9,1012 L778.6,1024 L783.6,1036 L788,1048 L791.7,1060 L794.8,1072 L797.3,1084 L799.2,1096 L800.5,1108 L801.4,1120 L801.7,1135 L801.4,1147 L800.6,1159 L799.3,1171 L797.4,1183 L795,1195 L792,1207 L788.3,1219 L784,1231 L779,1243 L773.4,1255 L761.8,1276 L754.1,1288 L745.7,1300 L729,1321 L712.7,1339 L697.6,1354 L677.7,1372 L656.6,1390 L594.4,1441 L549.8,1477 L496.7,1519 L427.2,1573 L1081,1573 L1081,694 Z" fill="#009bff"/>
<path d="M431.8,694 L500.2,748 L552.6,790 L596.5,826 L661.4,880 L682.2,898 L701.6,916 L716.3,931 L729.7,946 L746.3,967 L754.7,979 L762.3,991 L774,1012 L779.6,1024 L784.6,1036 L788.9,1048 L792.6,1060 L795.7,1072 L798.1,1084 L800,1096 L801.4,1108 L802.2,1120 L802.5,1135 L801.5,1159 L800.2,1171 L798.3,1183 L795.9,1195 L792.9,1207 L789.3,1219 L785,1231 L780.1,1243 L774.5,1255 L763,1276 L755.4,1288 L747,1300 L730.6,1321 L717.3,1336 L702.6,1351 L683.3,1369 L662.5,1387 L597.7,1441 L553.8,1477 L501.4,1519 L433,1573 L1081,1573 L1081,694 Z" fill="#00a3ff"/>
<path d="M437.5,694 L512.3,754 L560.2,793 L599.9,826 L667.2,883 L687.6,901 L703.5,916 L718,931 L733.8,949 L749.8,970 L758,982 L765.3,994 L776.5,1015 L782,1027 L786.7,1039 L790.9,1051 L794.4,1063 L797.2,1075 L799.5,1087 L801.3,1099 L802.5,1111 L803.4,1135 L802.3,1159 L801,1171 L799.2,1183 L796.8,1195 L793.8,1207 L790.2,1219 L786,1231 L781.1,1243 L775.6,1255 L764.2,1276 L756.7,1288 L748.4,1300 L732.1,1321 L719,1336 L704.5,1351 L685.4,1369 L664.9,1387 L597.5,1444 L557.8,1477 L438.8,1573 L1081,1573 L1081,694 Z" fill="#00abff"/>
<path d="M443.2,694 L564.1,793 L669.6,883 L689.7,901 L705.4,916 L719.8,931 L735.3,949 L751.2,970 L759.2,982 L766.5,994 L777.6,1015 L783,1027 L787.7,1039 L791.8,1051 L795.3,1063 L798.2,1075 L800.4,1087 L802.2,1099 L803.4,1111 L804.3,1135 L803.2,1159 L801.9,1171 L800.1,1183 L797.7,1195 L794.8,1207 L791.2,1219 L787,1231 L782.2,1243 L776.7,1255 L765.4,1276 L757.9,1288 L749.8,1300 L733.7,1321 L720.7,1336 L706.4,1351 L687.5,1369 L667.3,1387 L565.3,1474 L444.5,1573 L1081,1573 L1081,694 Z" fill="#00b3ff"/>
<path d="M448.9,694 L571.5,796 L671.9,883 L691.8,901 L707.3,916 L721.5,931 L736.9,949 L752.6,970 L760.5,982 L767.8,994 L778.7,1015 L784.1,1027 L788.8,1039 L792.8,1051 L796.3,1063 L799.1,1075 L801.4,1087 L803.1,1099 L804.3,1111 L805.2,1135 L804.1,1159 L802.8,1171 L801,1183 L798.7,1195 L795.7,1207 L792.2,1219 L788,1231 L783.2,1243 L777.8,1255 L766.6,1276 L759.2,1288 L751.2,1300 L735.2,1321 L722.4,1336 L708.2,1351 L689.6,1369 L669.6,1387 L569.1,1474 L450.1,1573 L1081,1573 L1081,694 Z" fill="#00bbff"/>
<path d="M454.5,694 L575.3,796 L674.2,883 L693.8,901 L709.2,916 L723.2,931 L738.4,949 L753.9,970 L761.8,982 L769,994 L779.9,1015 L785.2,1027 L789.8,1039 L793.8,1051 L797.2,1063 L800.1,1075 L802.3,1087 L804,1099 L805.2,1111 L806.1,1135 L805.1,1159 L803.8,1171 L802,1183 L799.6,1195 L796.7,1207 L793.2,1219 L789.1,1231 L784.3,1243 L778.9,1255 L767.8,1276 L760.6,1288 L752.6,1300 L736.8,1321 L724.1,1336 L710.1,1351 L694.9,1366 L675.3,1384 L576.5,1471 L455.7,1573 L1081,1573 L1081,694 Z" fill="#00c3ff"/>
<path d="M460.2,694 L582.6,799 L676.6,883 L695.9,901 L711.1,916 L725,931 L740,949 L755.4,970 L763.1,982 L770.2,994 L781,1015 L786.3,1027 L790.9,1039 L794.9,1051 L798.2,1063 L801,1075 L803.3,1087 L805,1099 L806.2,1111 L807,1135 L806,1159 L804.7,1171 L803,1183 L800.6,1195 L797.7,1207 L794.2,1219 L790.1,1231 L785.4,1243 L780.1,1255 L769.1,1276 L761.9,1288 L754,1300 L738.4,1321 L725.8,1336 L712,1351 L697,1366 L677.7,1384 L583.7,1468 L461.3,1573 L1081,1573 L1081,694 Z" fill="#00cbff"/>
<path d="M465.8,694 L586.3,799 L682.2,886 L701.1,904 L715.8,919 L729.3,934 L741.6,949 L756.8,970 L764.5,982 L771.5,994 L782.2,1015 L787.4,1027 L792,1039 L795.9,1051 L799.3,1063 L802.1,1075 L804.3,1087 L806,1099 L807.1,1111 L808,1135 L807,1159 L805.7,1171 L804,1183 L801.6,1195 L798.8,1207 L795.3,1219 L791.2,1231 L786.6,1243 L781.2,1255 L770.4,1276 L757.4,1297 L742.3,1318 L730.2,1333 L716.8,1348 L702.1,1363 L683.3,1381 L587.5,1468 L466.9,1573 L1081,1573 L1081,694 Z" fill="#00d3ff"/>
<path d="M471.5,694 L501.6,721 L593.5,802 L684.6,886 L703.2,904 L717.8,919 L731.1,934 L743.2,949 L758.2,970 L765.9,982 L772.8,994 L783.4,1015 L788.5,1027 L793.1,1039 L797,1051 L800.3,1063 L803.1,1075 L805.3,1087 L807,1099 L808.2,1111 L809,1135 L808,1159 L806.7,1171 L805,1183 L802.7,1195 L799.8,1207 L796.4,1219 L792.3,1231 L787.7,1243 L782.5,1255 L771.7,1276 L758.9,1297 L744,1318 L731.9,1333 L718.7,1348 L704.2,1363 L685.6,1381 L594.6,1465 L502.7,1546 L472.6,1573 L1081,1573 L1081,694 Z" fill="#00dbff"/>
<path d="M477.2,694 L510,724 L597.3,802 L687,886 L705.4,904 L719.7,919 L732.9,934 L744.8,949 L759.7,970 L767.3,982 L774.1,994 L784.6,1015 L789.7,1027 L794.2,1039 L798.1,1051 L801.4,1063 L804.2,1075 L806.4,1087 L808,1099 L809.2,1111 L810.1,1135 L809,1159 L807.8,1171 L806,1183 L803.7,1195 L800.9,1207 L797.5,1219 L793.5,1231 L788.9,1243 L783.7,1255 L773,1276 L760.4,1297 L745.6,1318 L733.7,1333 L720.6,1348 L706.4,1363 L688,1381 L598.4,1465 L507.8,1546 L478.3,1573 L1081,1573 L1081,694 Z" fill="#00e3ff"/>
<path d="M483,694 L515.2,724 L604.4,805 L689.4,886 L707.6,904 L721.7,919 L734.7,934 L746.5,949 L761.2,970 L768.7,982 L775.5,994 L785.8,1015 L790.9,1027 L795.4,1039 L799.2,1051 L802.5,1063 L805.2,1075 L807.4,1087 L809.1,1099 L810.3,1111 L811.1,1135 L810.1,1159 L808.9,1171 L807.1,1183 L804.8,1195 L802,1207 L798.6,1219 L794.7,1231 L790.1,1243 L784.9,1255 L774.4,1276 L761.9,1297 L747.3,1318 L735.5,1333 L722.6,1348 L708.6,1363 L690.5,1381 L602.2,1465 L516.2,1543 L484.1,1573 L1081,1573 L1081,694 Z" fill="#00ebff"/>
<path d="M488.9,694 L523.6,727 L608.3,805 L692,886 L709.8,904 L723.8,919 L736.6,934 L750.4,952 L764.7,973 L776.9,994 L787.1,1015 L792.1,1027 L796.6,1039 L800.4,1051 L803.7,1063 L806.4,1075 L808.5,1087 L810.2,1099 L811.4,1111 L812.2,1135 L811.2,1159 L810,1171 L808.2,1183 L806,1195 L803.1,1207 L799.8,1219 L795.9,1231 L791.3,1243 L786.2,1255 L775.8,1276 L763.4,1297 L749,1318 L737.4,1333 L724.7,1348 L710.8,1363 L693,1381 L609.3,1462 L521.4,1543 L489.9,1573 L1081,1573 L1081,694 Z" fill="#00f3ff"/>
<path d="M494.9,694 L528.9,727 L612.3,805 L697.6,889 L715,907 L728.5,922 L740.9,937 L752.2,952 L766.2,973 L773.4,985 L779.9,997 L789.7,1018 L794.6,1030 L798.8,1042 L804.8,1063 L807.5,1075 L809.7,1087 L812.5,1111 L813.3,1135 L812.3,1159 L809.4,1183 L807.1,1195 L804.3,1207 L798.1,1228 L793.8,1240 L788.9,1252 L778.8,1273 L772.2,1285 L765,1297 L750.7,1318 L739.3,1333 L726.7,1348 L713.1,1363 L695.6,1381 L613.3,1462 L529.9,1540 L495.8,1573 L1081,1573 L1081,694 Z" fill="#00fbff"/>
<path d="M500.9,694 L534.2,727 L619.4,808 L700.2,889 L717.3,907 L730.6,922 L742.8,937 L754,952 L767.9,973 L774.9,985 L781.3,997 L791.1,1018 L795.9,1030 L800,1042 L806,1063 L808.7,1075 L810.9,1087 L813.6,1111 L814.5,1135 L813.5,1159 L810.5,1183 L808.3,1195 L805.5,1207 L799.4,1228 L795.1,1240 L790.2,1252 L780.3,1273 L773.8,1285 L766.6,1297 L752.6,1318 L741.3,1333 L728.9,1348 L715.5,1363 L698.2,1381 L617.3,1462 L535.3,1540 L501.9,1573 L1081,1573 L1081,694 Z" fill="#04fffb"/>
<path d="M507.2,694 L539.8,727 L623.5,808 L702.9,889 L719.7,907 L732.8,922 L744.8,937 L755.8,952 L769.5,973 L776.5,985 L782.8,997 L792.5,1018 L797.2,1030 L801.3,1042 L807.3,1063 L809.9,1075 L812.1,1087 L814.8,1111 L815.7,1135 L814.7,1159 L811.8,1183 L809.5,1195 L806.8,1207 L800.7,1228 L796.4,1240 L791.6,1252 L781.8,1273 L775.4,1285 L768.3,1297 L754.4,1318 L743.3,1333 L731.1,1348 L717.9,1363 L701,1381 L621.5,1462 L540.8,1540 L508.1,1573 L1081,1573 L1081,694 Z" fill="#0cfff3"/>
<path d="M513.5,694 L545.5,727 L627.7,808 L702.8,886 L719.5,904 L732.6,919 L744.6,934 L757.8,952 L771.2,973 L778.1,985 L784.4,997 L793.9,1018 L798.6,1030 L802.7,1042 L808.6,1063 L811.2,1075 L813.3,1087 L816.1,1111 L816.9,1135 L815.9,1159 L813,1183 L810.8,1195 L808.1,1207 L802,1228 L797.8,1240 L793.1,1252 L783.4,1273 L777,1285 L770,1297 L756.4,1318 L745.4,1333 L733.4,1348 L720.4,1363 L703.8,1381 L628.7,1459 L546.5,1540 L514.5,1573 L1081,1573 L1081,694 Z" fill="#14ffeb"/>
<path d="M520.1,694 L551.5,727 L632.1,808 L705.8,886 L722.2,904 L735,919 L746.9,934 L759.7,952 L773,973 L779.8,985 L786,997 L795.4,1018 L800,1030 L804.1,1042 L809.9,1063 L814.6,1087 L817.4,1111 L818.2,1135 L817.2,1159 L814.3,1183 L809.4,1207 L803.4,1228 L799.3,1240 L794.6,1252 L785,1273 L773.6,1294 L760.4,1315 L747.6,1333 L735.9,1348 L723.1,1363 L706.8,1381 L633.1,1459 L552.4,1540 L521,1573 L1081,1573 L1081,694 Z" fill="#1cffe3"/>
<path d="M526.8,694 L557.6,727 L636.7,808 L709,886 L725,904 L737.6,919 L749.2,934 L761.8,952 L774.9,973 L781.6,985 L787.6,997 L796.9,1018 L801.5,1030 L805.5,1042 L811.3,1063 L816,1087 L818.7,1111 L819.6,1135 L818.6,1159 L815.7,1183 L810.8,1207 L804.9,1228 L800.8,1240 L796.1,1252 L786.7,1273 L775.5,1294 L762.5,1315 L749.9,1333 L738.4,1348 L725.9,1363 L709.9,1381 L637.6,1459 L558.6,1540 L527.7,1573 L1081,1573 L1081,694 Z" fill="#24ffdb"/>
<path d="M533.8,694 L564,727 L644.1,811 L712.3,886 L727.9,904 L740.2,919 L751.6,934 L764,952 L776.8,973 L789.4,997 L798.6,1018 L807.1,1042 L812.8,1063 L817.5,1087 L820.2,1111 L821,1135 L820,1159 L817.1,1183 L812.3,1207 L806.4,1228 L797.8,1252 L788.4,1273 L777.4,1294 L764.7,1315 L752.3,1333 L741,1348 L728.8,1363 L713.2,1381 L642.3,1459 L564.9,1540 L534.7,1573 L1081,1573 L1081,694 Z" fill="#2cffd3"/>
<path d="M540.8,694 L570.5,727 L648.9,811 L713,883 L728.5,901 L743,919 L754.1,934 L766.2,952 L778.8,973 L791.2,997 L800.3,1018 L808.7,1042 L814.3,1063 L819,1087 L821.7,1111 L822.5,1135 L821.5,1159 L818.7,1183 L813.9,1207 L808,1228 L799.5,1252 L790.3,1273 L779.4,1294 L766.9,1315 L754.8,1333 L743.7,1348 L729.3,1366 L713.9,1384 L647,1459 L571.4,1540 L541.7,1573 L1081,1573 L1081,694 Z" fill="#34ffcb"/>
<path d="M548,694 L579.8,730 L653.7,811 L716.6,883 L731.7,901 L745.8,919 L756.7,934 L768.6,952 L780.9,973 L793.1,997 L802,1018 L810.3,1042 L815.9,1063 L820.5,1087 L823.2,1111 L824.1,1135 L823.1,1159 L820.7,1180 L816.2,1204 L810.6,1225 L802.4,1249 L793.5,1270 L781.5,1294 L769.2,1315 L757.3,1333 L746.5,1348 L732.5,1366 L717.5,1384 L654.6,1456 L578,1540 L548.9,1573 L1081,1573 L1081,694 Z" fill="#3cffc3"/>
<path d="M555.2,694 L586.5,730 L661.2,814 L717.7,880 L734.9,901 L748.7,919 L759.3,934 L770.9,952 L783,973 L795,997 L803.8,1018 L812,1042 L817.6,1063 L822.2,1087 L824.8,1111 L825.7,1135 L824.7,1159 L822.3,1180 L817.8,1204 L812.3,1225 L804.2,1249 L795.4,1270 L783.6,1294 L771.5,1315 L760,1333 L749.4,1348 L735.7,1366 L718.6,1387 L659.5,1456 L584.7,1540 L556.1,1573 L1081,1573 L1081,694 Z" fill="#44ffbb"/>
<path d="M562.5,694 L590.6,727 L668.7,817 L721.5,880 L738.2,901 L751.6,919 L762,934 L773.4,952 L785.2,973 L797,997 L805.6,1018 L813.7,1042 L819.3,1063 L823.8,1087 L826.5,1111 L827.3,1135 L826.4,1159 L824,1180 L819.5,1204 L814,1225 L806,1249 L797.4,1270 L785.8,1294 L774,1315 L762.6,1333 L750.2,1351 L736.7,1369 L722.3,1387 L667,1453 L591.5,1540 L563.4,1573 L1081,1573 L1081,694 Z" fill="#4cffb3"/>
<path d="M569.9,694 L676.1,820 L722.9,877 L739.3,898 L752.5,916 L764.7,934 L775.8,952 L787.4,973 L799,997 L807.5,1018 L815.5,1042 L821,1063 L825.5,1087 L828.2,1111 L829,1135 L828.1,1159 L825.2,1183 L820.5,1207 L814.9,1228 L806.8,1252 L798.1,1273 L786.4,1297 L774.6,1318 L763.4,1336 L751.1,1354 L737.8,1372 L721.3,1393 L674.4,1450 L570.7,1573 L1081,1573 L1081,694 Z" fill="#54ffab"/>
<path d="M577.2,694 L685.9,826 L726.8,877 L742.8,898 L755.6,916 L767.5,934 L778.3,952 L791.2,976 L802.3,1000 L811.6,1024 L818.2,1045 L824.1,1069 L827.7,1090 L830.1,1114 L830.8,1135 L830,1156 L827.4,1180 L823.7,1201 L817.6,1225 L810.9,1246 L801.5,1270 L790.2,1294 L777.2,1318 L766.2,1336 L754.2,1354 L741.3,1372 L725.3,1393 L684.3,1444 L578,1573 L1081,1573 L1081,694 Z" fill="#5cffa3"/>
<path d="M584.4,694 L693.1,829 L728.4,874 L744,895 L758.7,916 L770.3,934 L780.9,952 L793.5,976 L804.4,1000 L813.5,1024 L820.1,1045 L825.9,1069 L829.5,1090 L831.9,1114 L832.5,1135 L831.8,1156 L829.2,1180 L825.5,1201 L819.5,1225 L812.8,1246 L803.5,1270 L792.5,1294 L779.7,1318 L769,1336 L757.3,1354 L744.8,1372 L729.2,1393 L693.9,1438 L585.2,1573 L1081,1573 L1081,694 Z" fill="#64ff9b"/>
<path d="M591.7,694 L702.5,835 L732.3,874 L747.5,895 L761.8,916 L773.1,934 L783.4,952 L795.8,976 L806.5,1000 L815.5,1024 L821.9,1045 L827.7,1069 L831.3,1090 L833.7,1114 L834.3,1135 L833.6,1156 L831,1180 L827.3,1201 L821.4,1225 L814.8,1246 L805.6,1270 L794.8,1294 L782.3,1318 L771.8,1336 L760.5,1354 L746.1,1375 L730.8,1396 L700.9,1435 L592.4,1573 L1081,1573 L1081,694 Z" fill="#6cff93"/>
<path d="M598.8,694 L707.1,835 L734,871 L748.9,892 L763,913 L775.9,934 L786,952 L798.1,976 L808.6,1000 L817.5,1024 L823.8,1045 L829.5,1069 L833.1,1090 L835.5,1114 L836.1,1135 L835.4,1156 L832.8,1180 L829.1,1201 L823.3,1225 L816.8,1246 L807.8,1270 L797.1,1294 L784.9,1318 L774.7,1336 L763.6,1354 L749.6,1375 L734.8,1396 L707.8,1432 L599.6,1573 L1081,1573 L1081,694 Z" fill="#74ff8b"/>
<path d="M605.8,694 L711.6,835 L737.9,871 L752.5,892 L766.1,913 L778.7,934 L788.6,952 L800.4,976 L810.8,1000 L819.5,1024 L825.8,1045 L831.4,1069 L835,1090 L837.4,1114 L838,1135 L837.2,1156 L834.7,1180 L831,1201 L825.2,1225 L818.8,1246 L810,1270 L799.5,1294 L787.5,1318 L777.5,1336 L766.7,1354 L753.1,1375 L738.6,1396 L712.4,1432 L606.6,1573 L1081,1573 L1081,694 Z" fill="#7cff83"/>
<path d="M612.9,694 L716.2,835 L741.9,871 L756,892 L769.3,913 L781.6,934 L791.2,952 L802.8,976 L813,1000 L821.6,1024 L827.8,1045 L833.4,1069 L836.9,1090 L839.3,1114 L839.9,1135 L839.2,1156 L836.6,1180 L833,1201 L827.3,1225 L820.9,1246 L812.2,1270 L801.9,1294 L790.2,1318 L780.4,1336 L768.1,1357 L754.7,1378 L740.5,1399 L714.8,1435 L613.7,1573 L1081,1573 L1081,694 Z" fill="#83ff7c"/>
<path d="M620.1,694 L718.8,832 L743.8,868 L759.6,892 L772.5,913 L784.5,934 L793.9,952 L805.3,976 L815.3,1000 L823.8,1024 L829.9,1045 L835.4,1069 L838.9,1090 L841.3,1114 L841.9,1135 L841.1,1156 L839,1177 L835.6,1198 L830.2,1222 L824.1,1243 L815.7,1267 L805.8,1291 L794.4,1315 L785,1333 L773.1,1354 L760.2,1375 L744.5,1399 L719.5,1435 L620.8,1573 L1081,1573 L1081,694 Z" fill="#8bff74"/>
<path d="M627.2,694 L721.4,829 L747.9,868 L763.2,892 L775.8,913 L787.4,934 L796.7,952 L807.8,976 L817.6,1000 L826,1024 L832,1045 L837.5,1069 L840.9,1090 L843.3,1114 L843.9,1135 L843.2,1156 L841.1,1177 L837.7,1198 L832.3,1222 L826.3,1243 L818,1267 L808.3,1291 L797.2,1315 L788,1333 L776.3,1354 L763.8,1375 L748.5,1399 L722.1,1438 L627.9,1573 L1081,1573 L1081,694 Z" fill="#93ff6c"/>
<path d="M634.3,694 L722.2,823 L750,865 L765,889 L777.4,910 L788.9,931 L799.5,952 L810.4,976 L820,1000 L828.2,1024 L834.2,1045 L839.6,1069 L843,1090 L845.4,1114 L846,1135 L845.3,1156 L843.2,1177 L839.8,1198 L834.5,1222 L828.6,1243 L820.4,1267 L810.8,1291 L800,1315 L789.4,1336 L777.9,1357 L765.6,1378 L750.6,1402 L722.8,1444 L635,1573 L1081,1573 L1081,694 Z" fill="#9bff64"/>
<path d="M641.4,694 L725.1,820 L754.1,865 L768.7,889 L782.4,913 L793.5,934 L803.7,955 L814.3,979 L823.6,1003 L831.5,1027 L837.2,1048 L842.4,1072 L845.6,1093 L847.5,1114 L848.1,1135 L847.4,1156 L845.3,1177 L842,1198 L836.7,1222 L830.9,1243 L822.8,1267 L813.4,1291 L802.8,1315 L792.5,1336 L781.3,1357 L769.3,1378 L754.7,1402 L725.8,1447 L642.1,1573 L1081,1573 L1081,694 Z" fill="#a3ff5c"/>
<path d="M648.5,694 L726.2,814 L758.3,865 L772.4,889 L785.7,913 L796.6,934 L806.6,955 L816.9,979 L826,1003 L833.8,1027 L839.5,1048 L844.6,1072 L847.7,1093 L849.7,1114 L850.3,1135 L849.5,1156 L847.5,1177 L844.2,1198 L839,1222 L833.2,1243 L825.3,1267 L816.1,1291 L805.6,1315 L795.6,1336 L784.6,1357 L771.3,1381 L757,1405 L725,1456 L649.1,1573 L1081,1573 L1081,694 Z" fill="#abff54"/>
<path d="M655.5,694 L727.6,808 L760.6,862 L774.5,886 L787.5,910 L799.7,934 L809.4,955 L819.6,979 L828.5,1003 L836.2,1027 L841.8,1048 L846.8,1072 L849.9,1093 L851.9,1114 L852.5,1135 L851.7,1156 L849.7,1177 L846.4,1198 L841.3,1222 L835.6,1243 L827.8,1267 L818.8,1291 L808.5,1315 L798.7,1336 L788,1357 L775,1381 L761.2,1405 L728.2,1459 L656.1,1573 L1081,1573 L1081,694 Z" fill="#b3ff4c"/>
<path d="M662.5,694 L730.9,805 L763.1,859 L778.2,886 L790.9,910 L802.8,934 L812.3,955 L822.3,979 L831.1,1003 L838.6,1027 L844.1,1048 L849.1,1072 L852.2,1093 L854.1,1114 L854.7,1135 L853.9,1156 L851.9,1177 L848.7,1198 L844.3,1219 L838.9,1240 L831.4,1264 L822.7,1288 L812.8,1312 L803.3,1333 L791.5,1357 L778.8,1381 L763.7,1408 L729.7,1465 L663.1,1573 L1081,1573 L1081,694 Z" fill="#bbff44"/>
<path d="M669.4,694 L734.3,802 L767.3,859 L782,886 L794.4,910 L805.9,934 L815.3,955 L825,979 L833.6,1003 L841,1027 L846.5,1048 L851.3,1072 L854.4,1093 L856.3,1114 L856.9,1135 L856.1,1156 L854.2,1177 L851,1198 L846.7,1219 L841.3,1240 L833.9,1264 L825.4,1288 L815.7,1312 L806.4,1333 L794.9,1357 L782.6,1381 L767.9,1408 L734.9,1465 L670,1573 L1081,1573 L1081,694 Z" fill="#c3ff3c"/>
<path d="M676.2,694 L739.5,802 L771.6,859 L785.8,886 L797.9,910 L809.1,934 L819.5,958 L828.9,982 L837.2,1006 L844.3,1030 L849.5,1051 L853.6,1072 L856.7,1093 L858.5,1114 L859.1,1135 L858.4,1156 L856.4,1177 L853.3,1198 L849,1219 L843.7,1240 L836.5,1264 L828.1,1288 L818.6,1312 L808.2,1336 L796.9,1360 L784.8,1384 L770.5,1411 L740.1,1465 L676.8,1573 L1081,1573 L1081,694 Z" fill="#cbff34"/>
<path d="M683,694 L744.6,802 L774.2,856 L788.1,883 L801.3,910 L812.3,934 L822.4,958 L831.6,982 L839.7,1006 L846.7,1030 L851.8,1051 L855.9,1072 L858.9,1093 L860.7,1114 L861.3,1135 L860.6,1156 L858.7,1177 L855.6,1198 L851.4,1219 L846.2,1240 L839.1,1264 L830.9,1288 L821.6,1312 L811.4,1336 L800.4,1360 L788.6,1384 L774.7,1411 L745.2,1465 L683.5,1573 L1081,1573 L1081,694 Z" fill="#d3ff2c"/>
<path d="M689.6,694 L749.7,802 L778.4,856 L792,883 L804.8,910 L815.5,934 L825.4,958 L834.3,982 L842.3,1006 L849.2,1030 L854.2,1051 L858.2,1072 L861.1,1093 L862.9,1114 L863.5,1135 L862.8,1156 L860.9,1177 L857.9,1198 L853.8,1219 L848.6,1240 L841.7,1264 L833.6,1288 L824.6,1312 L814.6,1336 L803.9,1360 L791,1387 L777.4,1414 L748.6,1468 L690.2,1573 L1081,1573 L1081,694 Z" fill="#dbff24"/>
<path d="M696.2,694 L754.7,802 L782.6,856 L795.8,883 L808.3,910 L818.7,934 L828.3,958 L837.1,982 L844.9,1006 L851.6,1030 L856.6,1051 L860.5,1072 L863.4,1093 L865.1,1114 L865.7,1135 L865,1156 L863.2,1177 L860.2,1198 L856.1,1219 L851.1,1240 L844.3,1264 L836.4,1288 L827.6,1312 L817.9,1336 L807.4,1360 L794.9,1387 L781.6,1414 L753.6,1468 L696.8,1573 L1081,1573 L1081,694 Z" fill="#e3ff1c"/>
<path d="M702.8,694 L759.6,802 L786.8,856 L799.7,883 L811.8,910 L821.9,934 L831.3,958 L839.9,982 L847.6,1006 L854.1,1030 L859,1051 L862.8,1072 L865.6,1093 L867.4,1114 L867.9,1135 L867.4,1153 L865.8,1174 L863,1195 L859.2,1216 L854.4,1237 L847.8,1261 L840.3,1285 L831.7,1309 L822.3,1333 L812.2,1357 L800.1,1384 L787.3,1411 L760.1,1465 L703.3,1573 L1081,1573 L1081,694 Z" fill="#ebff14"/>
<path d="M709.3,694 L764.5,802 L791,856 L803.5,883 L815.3,910 L825.2,934 L834.4,958 L842.8,982 L850.2,1006 L856.7,1030 L861.4,1051 L865.1,1072 L867.9,1093 L869.6,1114 L870.2,1135 L869.7,1153 L868,1174 L865.3,1195 L861.6,1216 L856.9,1237 L850.5,1261 L843.1,1285 L834.8,1309 L825.6,1333 L815.8,1357 L803.9,1384 L791.5,1411 L765,1465 L709.8,1573 L1081,1573 L1081,694 Z" fill="#f3ff0c"/>
<path d="M715.7,694 L770.8,805 L795.2,856 L807.3,883 L818.9,910 L829.7,937 L838.5,961 L846.6,985 L853.8,1009 L859.9,1033 L864.4,1054 L868,1075 L870.5,1096 L872,1117 L872.4,1135 L871.9,1153 L870.3,1174 L867.7,1195 L864,1216 L859.4,1237 L853.2,1261 L845.9,1285 L837.8,1309 L828.9,1333 L819.3,1357 L807.8,1384 L795.6,1411 L771.3,1462 L716.2,1573 L1081,1573 L1081,694 Z" fill="#fbff04"/>
<path d="M722.1,694 L777.1,808 L800.7,859 L812.5,886 L823.6,913 L832.9,937 L841.6,961 L849.5,985 L856.5,1009 L862.5,1033 L866.8,1054 L870.3,1075 L872.8,1096 L874.3,1117 L874.7,1135 L874.2,1153 L872.6,1174 L870,1195 L866.5,1216 L862,1237 L855.9,1261 L848.8,1285 L840.9,1309 L832.2,1333 L822.8,1357 L811.6,1384 L799.8,1411 L776.1,1462 L722.6,1573 L1081,1573 L1081,694 Z" fill="#fffb00"/>
<path d="M728.4,694 L781.8,808 L804.8,859 L816.3,886 L827.2,913 L836.3,937 L844.7,961 L852.4,985 L859.2,1009 L865.1,1033 L869.3,1054 L872.7,1075 L875.1,1096 L876.6,1117 L876.9,1135 L876.5,1153 L875,1174 L872.4,1195 L868.9,1216 L864.6,1237 L858.7,1261 L851.8,1285 L844,1309 L835.5,1333 L826.4,1357 L815.5,1384 L803.9,1411 L780.9,1462 L728.9,1573 L1081,1573 L1081,694 Z" fill="#fff300"/>
<path d="M734.8,694 L787.9,811 L808.9,859 L820.1,886 L830.7,913 L839.6,937 L847.8,961 L855.3,985 L861.9,1009 L867.7,1033 L871.8,1054 L875.1,1075 L877.5,1096 L878.9,1117 L879.2,1135 L878.8,1153 L877.3,1174 L874.8,1195 L871.5,1216 L867.2,1237 L861.4,1261 L854.7,1285 L847.2,1309 L838.9,1333 L830,1357 L809.4,1408 L787,1459 L735.2,1573 L1081,1573 L1081,694 Z" fill="#ffeb00"/>
<path d="M741,694 L793.9,814 L814.3,862 L834.3,913 L843,937 L851,961 L858.3,985 L864.7,1009 L870.3,1033 L874.4,1054 L877.6,1075 L879.9,1096 L881.2,1117 L881.6,1135 L881.1,1153 L879.7,1174 L877.3,1195 L874,1216 L869.9,1237 L864.2,1261 L858.6,1282 L851.3,1306 L843.3,1330 L834.7,1354 L814.7,1405 L793.1,1456 L741.5,1573 L1081,1573 L1081,694 Z" fill="#ffe300"/>
<path d="M747.3,694 L798.6,814 L818.4,862 L838,913 L846.4,937 L854.2,961 L861.3,985 L867.6,1009 L873,1033 L876.9,1054 L880,1075 L882.3,1096 L883.6,1117 L883.9,1135 L883.5,1153 L882.1,1174 L879.8,1195 L876.6,1216 L872.6,1237 L867.1,1261 L861.5,1282 L854.5,1306 L846.7,1330 L838.3,1354 L818.8,1405 L799,1453 L747.7,1573 L1081,1573 L1081,694 Z" fill="#ffdb00"/>
<path d="M753.5,694 L804.5,817 L823.8,865 L842.7,916 L850.8,940 L857.4,961 L864.3,985 L870.4,1009 L875.7,1033 L879.5,1054 L882.5,1075 L884.7,1096 L886,1117 L886.3,1135 L885.9,1153 L884.6,1174 L882.3,1195 L879.2,1216 L875.3,1237 L869.9,1261 L864.6,1282 L857.7,1306 L851.1,1327 L843,1351 L824.2,1402 L804.9,1450 L753.9,1573 L1081,1573 L1081,694 Z" fill="#ffd300"/>
<path d="M759.7,694 L810.4,820 L827.9,865 L846.3,916 L860.6,961 L867.4,985 L873.3,1009 L878.4,1033 L882.1,1054 L885.1,1075 L887.2,1096 L888.5,1117 L888.8,1135 L888.4,1153 L887,1174 L884.8,1195 L881.8,1216 L878,1237 L872.8,1261 L867.6,1282 L860.9,1306 L846.6,1351 L828.3,1402 L809.6,1450 L760.1,1573 L1081,1573 L1081,694 Z" fill="#ffcb00"/>
<path d="M765.9,694 L815.1,820 L833.2,868 L851,919 L864.8,964 L871.2,988 L876.2,1009 L881.2,1033 L884.8,1054 L887.7,1075 L889.7,1096 L890.9,1117 L891.2,1135 L890.9,1153 L889.6,1174 L887.4,1195 L884.5,1216 L880.8,1237 L875.8,1261 L870.7,1282 L864.2,1306 L850.3,1351 L832.5,1402 L815.5,1447 L766.2,1573 L1081,1573 L1081,694 Z" fill="#ffc300"/>
<path d="M772,694 L819.8,820 L837.4,868 L854.7,919 L868.1,964 L874.3,988 L879.2,1009 L884,1033 L887.5,1054 L890.3,1075 L892.3,1096 L893.4,1117 L893.7,1135 L893.4,1153 L892.1,1174 L890,1195 L887.2,1216 L883.6,1237 L878.7,1261 L873.8,1282 L867.5,1306 L854,1351 L836.7,1402 L820.2,1447 L772.4,1573 L1081,1573 L1081,694 Z" fill="#ffbb00"/>
<path d="M778.1,694 L824.5,820 L840.6,865 L857.4,916 L870.6,961 L876.7,985 L881.5,1006 L886.3,1030 L889.8,1051 L892.6,1072 L894.6,1093 L895.9,1114 L896.3,1135 L895.9,1153 L894.7,1174 L892.7,1195 L889.9,1216 L886.5,1237 L881.7,1261 L876.9,1282 L870.8,1306 L857.7,1351 L840.9,1402 L824.9,1447 L778.5,1573 L1081,1573 L1081,694 Z" fill="#ffb300"/>
<path d="M784.1,694 L829.2,820 L844.8,865 L861.1,916 L873.9,961 L879.8,985 L884.5,1006 L889.1,1030 L892.5,1051 L895.2,1072 L897.2,1093 L898.4,1114 L898.8,1135 L898.5,1153 L897.3,1174 L895.4,1195 L892.7,1216 L889.3,1237 L884.7,1261 L880.1,1282 L874.1,1306 L861.4,1351 L845.1,1402 L828.5,1450 L784.5,1573 L1081,1573 L1081,694 Z" fill="#ffab00"/>
<path d="M790,694 L832.8,817 L848.9,865 L864.8,916 L877.2,961 L883,985 L887.5,1006 L892,1030 L895.3,1051 L897.9,1072 L899.8,1093 L901,1114 L901.4,1135 L901,1153 L899.9,1174 L898,1195 L895.4,1216 L892.2,1237 L887.7,1261 L883.2,1282 L877.4,1306 L865.1,1351 L849.3,1402 L833.1,1450 L790.3,1573 L1081,1573 L1081,694 Z" fill="#ffa300"/>
<path d="M795.8,694 L837.4,817 L853.1,865 L868.5,916 L880.5,961 L886.1,985 L890.5,1006 L894.8,1030 L898,1051 L900.6,1072 L902.4,1093 L903.6,1114 L903.9,1135 L903.6,1153 L902.5,1174 L900.7,1195 L898.2,1216 L895,1237 L890.7,1261 L886.3,1282 L880.7,1306 L868.8,1351 L853.4,1402 L837.8,1450 L796.1,1573 L1081,1573 L1081,694 Z" fill="#ff9b00"/>
<path d="M801.5,694 L841.1,814 L856.4,862 L871.4,913 L883.8,961 L889.3,985 L893.5,1006 L897.7,1030 L900.8,1051 L903.3,1072 L905.1,1093 L906.2,1114 L906.5,1135 L906.1,1156 L904.9,1177 L903.1,1198 L900.5,1219 L897.4,1240 L893.1,1264 L888.8,1285 L883.4,1309 L871.7,1354 L856.7,1405 L841.4,1453 L801.8,1573 L1081,1573 L1081,694 Z" fill="#ff9300"/>
<path d="M807.2,694 L844.8,811 L860.6,862 L875.2,913 L887.2,961 L892.4,985 L896.5,1006 L900.6,1030 L903.6,1051 L906,1072 L907.7,1093 L908.8,1114 L909.1,1135 L908.7,1156 L907.6,1177 L905.8,1198 L903.3,1219 L900.3,1240 L896.2,1264 L892,1285 L886.7,1309 L874.6,1357 L860,1408 L844.1,1459 L807.5,1573 L1081,1573 L1081,694 Z" fill="#ff8b00"/>
<path d="M812.8,694 L848.6,808 L863.9,859 L878.2,910 L889.9,958 L895.1,982 L899.6,1006 L903.6,1030 L906.4,1051 L908.7,1072 L910.4,1093 L911.5,1114 L911.8,1135 L911.4,1156 L910.3,1177 L908.6,1198 L906.2,1219 L903.3,1240 L899.3,1264 L890.1,1309 L878.4,1357 L864.2,1408 L848.9,1459 L813.2,1573 L1081,1573 L1081,694 Z" fill="#ff8300"/>
<path d="M818.5,694 L852.4,805 L868.3,859 L882,910 L893.4,958 L898.4,982 L902.8,1006 L906.6,1030 L909.3,1051 L911.6,1072 L913.2,1093 L914.2,1114 L914.5,1135 L914.1,1156 L913.1,1177 L911.4,1198 L909.1,1219 L906.3,1240 L902.4,1264 L898,1288 L893,1312 L881.5,1360 L867.7,1411 L851.8,1465 L818.8,1573 L1081,1573 L1081,694 Z" fill="#ff7c00"/>
<path d="M824.2,694 L856.4,802 L871.8,856 L885.9,910 L896.9,958 L901.7,982 L906,1006 L909.6,1030 L912.3,1051 L914.4,1072 L916,1093 L916.9,1114 L917.3,1135 L916.9,1156 L915.9,1177 L914.3,1198 L912.1,1219 L909.4,1240 L905.6,1264 L901.3,1288 L896.5,1312 L885.4,1360 L871.3,1414 L855.8,1468 L824.5,1573 L1081,1573 L1081,694 Z" fill="#ff7400"/>
<path d="M830,694 L859.6,796 L875.5,853 L889.2,907 L899.9,955 L904.6,979 L908.8,1003 L912.4,1027 L915,1048 L917.4,1072 L918.9,1093 L919.8,1114 L920.1,1135 L919.7,1156 L918.8,1177 L917.2,1198 L915.1,1219 L912.5,1240 L908.9,1264 L904.8,1288 L900.1,1312 L889.4,1360 L875.7,1414 L859.9,1471 L830.3,1573 L1081,1573 L1081,694 Z" fill="#ff6c00"/>
<path d="M835.9,694 L863.9,793 L880,853 L893.3,907 L903.6,955 L912.1,1003 L915.6,1027 L918.1,1048 L920.4,1072 L921.8,1093 L922.7,1114 L923,1135 L922.7,1156 L921.7,1177 L920.2,1198 L917.9,1222 L915.3,1243 L911.8,1267 L903.2,1315 L892.8,1363 L879.5,1417 L864.1,1474 L836.2,1573 L1081,1573 L1081,694 Z" fill="#ff6400"/>
<path d="M841.9,694 L868.3,790 L883.9,850 L896.8,904 L907.4,955 L915.6,1003 L921.3,1048 L923.5,1072 L924.9,1093 L925.7,1114 L926,1135 L925.7,1156 L924.8,1177 L923.4,1198 L921.1,1222 L915.3,1267 L907,1315 L896.4,1366 L883.4,1420 L867.7,1480 L842.1,1573 L1081,1573 L1081,694 Z" fill="#ff5c00"/>
<path d="M848,694 L872.8,787 L888,847 L900.5,901 L910.8,952 L918.7,1000 L921.9,1024 L924.6,1048 L926.7,1072 L928,1093 L928.8,1114 L929.1,1135 L928.8,1156 L927.9,1177 L926.6,1198 L924.4,1222 L921.7,1246 L918.4,1270 L910.4,1318 L900.1,1369 L887.5,1423 L872.3,1483 L848.2,1573 L1081,1573 L1081,694 Z" fill="#ff5400"/>
<path d="M854.2,694 L877.6,784 L892.3,844 L905,901 L914.8,952 L922.4,1000 L925.5,1024 L928,1048 L930,1072 L931.3,1093 L932.1,1114 L932.3,1135 L932,1156 L931.2,1177 L929.9,1198 L927.9,1222 L925.2,1246 L922.1,1270 L914.4,1318 L904.5,1369 L892.5,1423 L877.8,1483 L854.5,1573 L1081,1573 L1081,694 Z" fill="#ff4c00"/>
<path d="M860.6,694 L881.8,778 L896.7,841 L909,898 L918.5,949 L925.8,997 L931.3,1045 L934.5,1090 L935.4,1114 L935.6,1135 L935.3,1156 L934.4,1180 L931.1,1225 L925.5,1273 L918.1,1321 L908.6,1372 L896.9,1426 L882,1489 L860.9,1573 L1081,1573 L1081,694 Z" fill="#ff4400"/>
<path d="M867.3,694 L887.7,778 L902,841 L913.7,898 L922.8,949 L929.8,997 L935,1045 L938,1090 L938.8,1114 L939.1,1135 L938.8,1156 L937.9,1180 L934.8,1225 L929.5,1273 L922.4,1321 L913.3,1372 L901.6,1429 L887.2,1492 L867.5,1573 L1081,1573 L1081,694 Z" fill="#ff3c00"/>
<path d="M874,694 L893,775 L906.8,838 L918.1,895 L926.7,946 L933.8,997 L938.8,1045 L941.7,1090 L942.4,1114 L942.6,1135 L941.6,1180 L938.6,1225 L933.6,1273 L926.4,1324 L917.7,1375 L906.4,1432 L892.6,1495 L874.3,1573 L1081,1573 L1081,694 Z" fill="#ff3400"/>
<path d="M880.9,694 L898.5,772 L911.8,835 L922.6,892 L930.9,943 L937.7,994 L942.5,1042 L945.4,1090 L946.3,1135 L945.3,1180 L942.5,1225 L937.8,1273 L931,1324 L922.7,1375 L912,1432 L898.7,1495 L881.1,1573 L1081,1573 L1081,694 Z" fill="#ff2c00"/>
<path d="M887.9,694 L904.2,769 L916.9,832 L927.2,889 L935.6,943 L942,994 L946.5,1042 L949.3,1090 L950.1,1135 L949.2,1180 L946.4,1228 L941.8,1276 L935.3,1327 L926.9,1381 L916.6,1438 L903.8,1501 L888.1,1573 L1081,1573 L1081,694 Z" fill="#ff2400"/>
<path d="M895,694 L910.1,766 L922.3,829 L932.1,886 L940.1,940 L946.2,991 L950.7,1042 L953.3,1090 L954.1,1135 L953.2,1180 L950.6,1228 L946,1279 L939.8,1330 L931.8,1384 L921.9,1441 L910.3,1501 L895.2,1573 L1081,1573 L1081,694 Z" fill="#ff1c00"/>
<path d="M902.2,694 L916.1,763 L927.8,826 L937.2,883 L944.7,937 L950.5,988 L954.9,1039 L957.4,1087 L958.2,1135 L957.4,1180 L954.9,1228 L950.6,1279 L944.9,1330 L937.3,1384 L928,1441 L916.3,1504 L902.4,1573 L1081,1573 L1081,694 Z" fill="#ff1400"/>
<path d="M909.6,694 L922.9,763 L933.5,823 L942.4,880 L949.6,934 L955.3,988 L959.4,1039 L961.7,1087 L962.5,1135 L961.6,1183 L959.2,1231 L955.2,1282 L949.7,1333 L942.5,1387 L933.7,1444 L923.1,1504 L909.8,1573 L1081,1573 L1081,694 Z" fill="#ff0c00"/>
<path d="M917.1,694 L929.3,760 L939.4,820 L947.8,877 L954.9,934 L960.3,988 L964,1039 L966.1,1087 L966.9,1135 L966.1,1183 L963.9,1231 L960.1,1282 L954.7,1336 L947.9,1390 L939.6,1447 L929.5,1507 L917.3,1573 L1081,1573 L1081,694 Z" fill="#ff0400"/>
<path d="M924.8,694 L936,757 L945.5,817 L953.4,874 L960.1,931 L965.2,985 L968.6,1036 L970.8,1087 L971.4,1135 L970.7,1183 L968.5,1234 L965,1285 L959.9,1339 L953.6,1393 L945.6,1450 L936.1,1510 L925,1573 L1081,1573 L1081,694 Z" fill="#fb0000"/>
<path d="M932.6,694 L942.8,754 L951.8,814 L959.3,871 L965.5,928 L970.2,982 L973.5,1033 L975.5,1084 L976.2,1135 L975.4,1186 L973.4,1237 L970.1,1288 L965.3,1342 L959.4,1396 L951.9,1453 L942.9,1513 L932.8,1573 L1081,1573 L1081,694 Z" fill="#f30000"/>
<path d="M940.7,694 L950.2,754 L958.3,811 L965.3,868 L971.1,925 L975.5,979 L978.6,1033 L980.5,1084 L981.1,1135 L980.4,1186 L978.5,1237 L975.3,1291 L970.9,1345 L965.4,1399 L958.4,1456 L950.4,1513 L940.8,1573 L1081,1573 L1081,694 Z" fill="#eb0000"/>
<path d="M948.9,694 L957.9,754 L965.4,811 L971.9,868 L976.9,922 L980.9,976 L983.8,1030 L985.6,1084 L986.1,1135 L985.6,1186 L983.8,1240 L980.8,1294 L976.8,1348 L971.6,1402 L965.2,1459 L957.6,1516 L949,1573 L1081,1573 L1081,694 Z" fill="#e30000"/>
<path d="M957.2,694 L965.3,751 L972.3,808 L978.3,865 L982.9,919 L986.6,973 L989.3,1027 L990.9,1081 L991.4,1135 L990.8,1189 L989.2,1243 L986.5,1297 L982.8,1351 L978.1,1405 L972.1,1462 L965.4,1516 L957.4,1573 L1081,1573 L1081,694 Z" fill="#db0000"/>
<path d="M965.8,694 L973.3,751 L979.5,805 L984.9,862 L989.2,916 L992.7,973 L995,1027 L996.4,1081 L996.8,1135 L996.3,1189 L994.9,1243 L992.6,1297 L989.1,1354 L984.8,1408 L979.6,1462 L973.4,1516 L966,1573 L1081,1573 L1081,694 Z" fill="#d30000"/>
<path d="M974.7,694 L981.2,748 L986.9,802 L991.6,856 L995.5,910 L998.5,964 L1000.8,1021 L1002.1,1075 L1002.5,1132 L1002.1,1189 L1000.9,1243 L998.7,1300 L995.8,1354 L991.7,1411 L987,1465 L981.3,1519 L974.8,1573 L1081,1573 L1081,694 Z" fill="#cb0000"/>
<path d="M983.8,694 L989.5,745 L994.6,799 L998.9,853 L1002.4,907 L1005.1,961 L1007.1,1018 L1008.2,1075 L1008.6,1132 L1008.3,1189 L1007.2,1246 L1005.2,1303 L1002.6,1357 L999.2,1411 L995,1465 L989.9,1519 L983.9,1573 L1081,1573 L1081,694 Z" fill="#c30000"/>
<path d="M993.2,694 L998.3,745 L1002.9,799 L1006.5,850 L1009.6,904 L1012,958 L1013.7,1015 L1014.7,1072 L1015.1,1132 L1014.8,1192 L1013.8,1249 L1012.1,1306 L1009.8,1360 L1006.8,1414 L1003,1468 L998.4,1522 L993.3,1573 L1081,1573 L1081,694 Z" fill="#bb0000"/>
<path d="M1002.9,694 L1007.4,745 L1011.2,796 L1014.6,850 L1017.3,904 L1019.3,958 L1020.7,1015 L1021.6,1072 L1021.9,1132 L1021.6,1192 L1020.8,1252 L1019.3,1309 L1017.3,1363 L1014.6,1417 L1011.3,1471 L1007.5,1522 L1003,1573 L1081,1573 L1081,694 Z" fill="#b30000"/>
<path d="M1012.8,694 L1016.7,745 L1020,796 L1022.8,847 L1025,901 L1026.8,955 L1028,1012 L1028.8,1072 L1029,1132 L1028.8,1195 L1028,1255 L1026.8,1312 L1025.1,1366 L1022.8,1420 L1020.1,1471 L1016.8,1522 L1012.9,1573 L1081,1573 L1081,694 Z" fill="#ab0000"/>
<path d="M1023,694 L1026.1,742 L1028.9,793 L1033.1,898 L1035.6,1009 L1036.4,1132 L1035.6,1255 L1033.2,1366 L1029.1,1471 L1026.3,1522 L1023,1573 L1081,1573 L1081,694 Z" fill="#a30000"/>
<path d="M1033.4,694 L1038.1,793 L1041.5,898 L1043.5,1009 L1044.1,1132 L1043.5,1258 L1041.5,1369 L1038.2,1474 L1033.4,1573 L1081,1573 L1081,694 Z" fill="#9b0000"/>
<path d="M1044,694 L1047.6,793 L1050.1,898 L1051.5,1009 L1052,1132 L1051.6,1258 L1050.1,1369 L1047.6,1474 L1044,1573 L1081,1573 L1081,694 Z" fill="#930000"/>
<path d="M1054.8,694 L1057.2,793 L1058.9,895 L1059.8,1006 L1060.1,1132 L1059.9,1258 L1058.9,1369 L1057.3,1474 L1054.8,1573 L1081,1573 L1081,694 Z" fill="#8b0000"/>
<path d="M1065.8,694 L1067.9,895 L1068.5,1132 L1067.9,1372 L1065.8,1573 L1081,1573 L1081,694 Z" fill="#830000"/>
<path d="M66.8,694 L100.6,706 L137.5,720 L172.4,734 L260,770 L290.5,782 L317.1,792 L345.2,802 L374.9,812 L499.4,852 L528.3,862 L555.2,872 L584.8,884 L615.7,898 L643,912 L653.7,918 L667,926 L682.1,936 L695.8,946 L708,956 L720.8,968 L730.1,978 L739.7,990 L746.4,1000 L753.3,1012 L758.8,1024 L763.1,1036 L766.4,1048 L769.1,1062 L770.9,1076 L771.8,1090 L772.3,1106 L772.4,1134 L772.3,1162 L771.8,1178 L770.9,1192 L769.1,1206 L766.4,1220 L763.1,1232 L758.8,1244 L753.3,1256 L746.4,1268 L739.7,1278 L730.1,1290 L720.8,1300 L708,1312 L695.8,1322 L682.1,1332 L667,1342 L653.7,1350 L643,1356 L615.7,1370 L584.8,1384 L555.2,1396 L528.3,1406 L499.4,1416 L374.9,1456 L345.2,1466 L317.1,1476 L290.5,1486 L260,1498 L172.4,1534 L137.5,1548 L100.6,1562 L66.8,1574 M212.5,694 L240,706 L269.6,720 L375.8,774 L508.1,838 L536.4,852 L563.8,866 L600.9,886 L635.2,906 L651.2,916 L666.4,926 L680.6,936 L691.4,944 L703.8,954 L715.3,964 L725.6,974 L734.8,984 L742.9,994 L750,1004 L756.2,1014 L762.6,1026 L766.9,1036 L771.3,1048 L774.6,1060 L777.2,1072 L779,1084 L780.4,1098 L781.2,1112 L781.5,1130 L781.3,1150 L780.8,1164 L779.7,1178 L777.9,1192 L775.6,1204 L772.5,1216 L768.5,1228 L763.5,1240 L757.4,1252 L751.3,1262 L744.4,1272 L736.5,1282 L727.5,1292 L717.4,1302 L706.2,1312 L693.9,1322 L683.4,1330 L669.3,1340 L654.3,1350 L638.5,1360 L604.4,1380 L567.6,1400 L540.4,1414 L512.2,1428 L371.8,1496 L293.7,1536 L269.6,1548 L240,1562 L212.5,1574 M321.4,694 L352.3,714 L387.6,736 L535.8,826 L564.5,844 L592.2,862 L624.5,884 L654.6,906 L679.7,926 L691.3,936 L702.2,946 L714.5,958 L723.8,968 L732.4,978 L740.2,988 L747.3,998 L755,1010 L761.8,1022 L767.8,1034 L773,1046 L777.5,1058 L781.3,1070 L784.3,1082 L786.7,1094 L788.7,1108 L789.7,1120 L790.1,1134 L789.7,1148 L788.7,1160 L786.7,1174 L784.3,1186 L781.3,1198 L777.5,1210 L773,1222 L767.8,1234 L761.8,1246 L755,1258 L747.3,1270 L740.2,1280 L732.4,1290 L723.8,1300 L714.5,1310 L702.2,1322 L691.3,1332 L679.7,1342 L654.6,1362 L624.5,1384 L592.2,1406 L564.5,1424 L535.8,1442 L387.6,1532 L352.3,1554 L321.4,1574 M419.5,694 L490.1,748 L544.1,790 L594.5,830 L653.9,878 L677.7,898 L695.5,914 L711.7,930 L726.4,946 L734.8,956 L744.2,968 L751.4,978 L759.2,990 L765.2,1000 L771.7,1012 L777.5,1024 L782.6,1036 L787,1048 L790.7,1060 L793.8,1072 L796.3,1084 L798.3,1096 L799.6,1108 L800.5,1120 L800.8,1134 L800.5,1148 L799.6,1160 L798.3,1172 L796.3,1184 L793.8,1196 L790.7,1208 L787,1220 L782.6,1232 L777.5,1244 L771.7,1256 L765.2,1268 L759.2,1278 L751.4,1290 L744.2,1300 L734.8,1312 L726.4,1322 L711.7,1338 L695.5,1354 L677.7,1370 L653.9,1390 L594.5,1438 L544.1,1478 L490.1,1520 L419.5,1574 M513,694 L528.3,710 L546.1,728 L605.3,786 L627.4,808 L704.5,888 L721.1,906 L733.3,920 L746,936 L757.6,952 L764.3,962 L771.7,974 L777.4,984 L783.7,996 L788.5,1006 L793.8,1018 L797.7,1028 L801.9,1040 L805,1050 L808.2,1062 L810.9,1074 L813.1,1086 L814.7,1098 L815.9,1110 L816.6,1122 L816.8,1134 L816.6,1146 L815.9,1158 L814.7,1170 L813.1,1182 L810.9,1194 L808.2,1206 L805,1218 L801.9,1228 L797.7,1240 L793.8,1250 L788.5,1262 L783.7,1272 L777.4,1284 L771.7,1294 L764.3,1306 L757.6,1316 L746,1332 L733.3,1348 L721.1,1362 L704.5,1380 L627.4,1460 L605.3,1482 L546.1,1540 L528.3,1558 L513,1574 M599.3,694 L708.2,836 L735.1,872 L750.6,894 L763.8,914 L776.1,934 L786.2,952 L798.3,976 L808,998 L816.9,1022 L823.7,1044 L826.8,1056 L829.5,1068 L833.3,1090 L835.5,1112 L836.3,1134 L835.5,1156 L833.3,1178 L829.5,1200 L826.8,1212 L823.7,1224 L816.9,1246 L808,1270 L798.3,1292 L786.2,1316 L776.1,1334 L763.8,1354 L750.6,1374 L735.1,1396 L708.2,1432 L599.3,1574 M684.6,694 L745.8,802 L761.3,830 L775.2,856 L788.6,882 L801.2,908 L812.2,932 L822.3,956 L831.5,980 L839.7,1004 L846.8,1028 L852.2,1050 L856.5,1072 L859.3,1092 L861.2,1114 L861.8,1134 L861.2,1154 L859.3,1176 L856.5,1196 L852.2,1218 L846.8,1240 L839.7,1264 L831.5,1288 L822.3,1312 L812.2,1336 L801.2,1360 L788.6,1386 L775.2,1412 L761.3,1438 L745.8,1466 L684.6,1574 M774,694 L821.3,820 L838,866 L847,892 L854.9,916 L862.3,940 L868.6,962 L874.8,986 L879.9,1008 L884.4,1030 L888.1,1052 L891,1074 L893,1094 L894.2,1114 L894.6,1134 L894.2,1154 L893,1174 L891,1194 L888.1,1216 L884.4,1238 L879.9,1260 L874.8,1282 L868.6,1306 L862.3,1328 L854.9,1352 L847,1376 L838,1402 L821.3,1448 L774,1574 M865.1,694 L885.8,778 L900.1,840 L911.8,896 L921.2,948 L925.3,974 L928.6,998 L931.5,1022 L933.9,1046 L935.6,1068 L936.9,1090 L937.7,1112 L937.9,1134 L937.7,1156 L936.9,1178 L935.6,1200 L933.9,1222 L931.5,1246 L928.6,1270 L925.3,1294 L921.2,1320 L911.8,1372 L900.1,1428 L885.8,1490 L865.1,1574 M966.9,694 L973.9,748 L980.3,804 L985.6,860 L989.8,914 L993.1,968 L995.6,1024 L997,1080 L997.5,1134 L997,1188 L995.6,1244 L993.1,1300 L989.8,1354 L985.6,1408 L980.3,1464 L973.9,1520 L966.9,1574 M43.3,694 L78,706 L115.8,720 L151.8,734 L247,772 L278.5,784 L306.1,794 L329.2,802 L359.6,812 L486.6,852 L516.1,862 L543.5,872 L573.8,884 L605.5,898 L633.6,912 L658.3,926 L673.9,936 L688.1,946 L700.7,956 L714.1,968 L723.8,978 L734,990 L742.5,1002 L749.5,1014 L755.3,1026 L759.9,1038 L763.4,1050 L766.4,1064 L768.5,1078 L769.8,1094 L770.5,1110 L770.8,1134 M19.8,694 L55.3,706 L94.2,720 L131.2,734 L229,772 L261.4,784 L289.6,794 L313.2,802 L344.3,812 L473.7,852 L503.8,862 L531.9,872 L562.8,884 L595.3,898 L624.1,912 L649.5,926 L665.7,936 L680.3,946 L693.5,956 L707.4,968 L717.6,978 L728.2,990 L737.3,1002 L744.8,1014 L751,1026 L756,1038 L760,1050 L763.4,1064 L765.9,1078 L767.6,1094 L768.7,1112 L769.2,1134" fill="none" stroke="#0a0a0a" stroke-width="2" stroke-linejoin="round"/>
<path d="M198.8,697.4 L231.3,706.5 L259.9,715.2 L288.4,724.5 L316.6,734.4 L344.6,744.9 L372.4,756 L399.8,767.9 L423.6,778.8 L450.4,791.9 L473.6,803.9 L499.7,818.4 L522.2,831.7 L544.4,845.5 L566.2,860.1 L587.5,875.2 L608.3,891.1 L628.4,907.8 L645.1,922.6 L661.2,938.1 L676.7,954.2 L691.6,970.9 L705.7,988.4 L719.2,1006.5 L731.8,1025.3 L743.5,1044.8 L752.3,1061.6 L760.2,1078.9 L765.5,1092.9 L770.9,1110.7 L774,1125.1 L776,1139.7 L776.5,1147.1 L776.7,1158.1 L776,1172.8 L775.3,1180.1 L773.6,1191.1 L770.5,1205.6 L765.1,1223.4 L759.7,1237.3 L751.7,1254.2 L742.3,1270.3 L733.9,1282.7 L724.7,1294.4 L712.2,1308.1 L701.4,1318.4 L687,1330.3 L671.9,1341.2 L656,1351.3 L639.6,1360.6 L622.7,1369.2 L602,1378.7 L577.5,1388.7 L552.7,1397.7 L527.8,1405.8 L502.7,1412.9 L477.5,1419.1 L452.1,1424.4 L426.5,1428.9 L400.8,1432.5 L371.2,1435.7 L345.2,1437.7 L315.4,1439 L289.2,1439.5 L259.1,1439.2 L228.9,1438 L198.6,1436.1 L179,1436.1 L179,697.4 Z" fill="#fff"/>
</g>
<circle cx="637" cy="1134" r="87.6" fill="#fff" stroke="#000" stroke-width="2.4"/>
<path d="M637,1046.4 A87.6,87.6 0 0 0 637,1221.6 Z" fill="#000"/>
<path d="M198.7,696 V1572" fill="none" stroke="#3a3a3a" stroke-width="2.2"/>
<path d="M199,1572 h8 M199,1353 h8 M199,1134 h8 M199,915 h8 M199,696 h8" stroke="#3a3a3a" stroke-width="1.8" fill="none"/>
<g font-family="Liberation Serif, serif" font-size="42.5" fill="#262626">
<text x="181.5" y="1589.6" text-anchor="end">-5</text>
<text x="198.7" y="1629.8" text-anchor="middle">-5</text>
<text x="181.5" y="1370.6" text-anchor="end">-2.5</text>
<text x="417.7" y="1629.8" text-anchor="middle">-2.5</text>
<text x="181.5" y="1151.6" text-anchor="end">0</text>
<text x="636.7" y="1629.8" text-anchor="middle">0</text>
<text x="181.5" y="932.6" text-anchor="end">2.5</text>
<text x="855.7" y="1629.8" text-anchor="middle">2.5</text>
<text x="181.5" y="713.6" text-anchor="end">5</text>
<text x="1074.7" y="1629.8" text-anchor="middle">5</text>
</g>
<g font-family="Liberation Serif, serif" font-size="47" fill="#262626">
<text x="633.6" y="1684.5" text-anchor="middle">x [R<tspan font-size="36.5" dy="24">M</tspan><tspan dy="-24">]</tspan></text>
<text transform="translate(72.8,1135.7) rotate(-90)" text-anchor="middle">z [R<tspan font-size="36.5" dy="24">M</tspan><tspan dy="-24">]</tspan></text>
</g>
<text x="216.5" y="801" font-family="Liberation Sans, sans-serif" font-weight="bold" font-size="42" fill="#000">(b)</text>
<linearGradient id="jetv" x1="0" y1="1" x2="0" y2="0">
<stop offset="0" stop-color="#000080"/>
<stop offset="0.125" stop-color="#0000ff"/>
<stop offset="0.375" stop-color="#00ffff"/>
<stop offset="0.625" stop-color="#ffff00"/>
<stop offset="0.875" stop-color="#ff0000"/>
<stop offset="1" stop-color="#800000"/>
</linearGradient>
<rect x="1109" y="696" width="45" height="874.5" fill="url(#jetv)" stroke="#3a3a3a" stroke-width="1.2"/>
<g font-family="Liberation Serif, serif" font-size="38.3" fill="#262626">
<text x="1168.5" y="1586.5">390</text>
<text x="1168.5" y="1498.9">391</text>
<text x="1168.5" y="1411.3">392</text>
<text x="1168.5" y="1323.7">393</text>
<text x="1168.5" y="1236.1">394</text>
<text x="1168.5" y="1148.5">395</text>
<text x="1168.5" y="1060.9">396</text>
<text x="1168.5" y="973.3">397</text>
<text x="1168.5" y="885.7">398</text>
<text x="1168.5" y="798.1">399</text>
<text x="1168.5" y="710.5">400</text>
</g>
<path d="M1154,1484.4 h-7 M1154,1396.8 h-7 M1154,1309.2 h-7 M1154,1221.6 h-7 M1154,1134 h-7 M1154,1046.4 h-7 M1154,958.8 h-7 M1154,871.2 h-7 M1154,783.6 h-7" stroke="#3a3a3a" stroke-width="1.6" fill="none"/>
<text transform="translate(1275,1133) rotate(-90)" text-anchor="middle" font-family="Liberation Sans, sans-serif" font-size="38.3" fill="#262626">V [km/s]</text>
</g>
<g id="pc">
<path d="M201.7,1989.3 L201.7,2274.3 L372.2,2385.4 L1038.6,2129.7" fill="none" stroke="#333" stroke-width="1.8" stroke-linejoin="miter"/>
<g font-family="Liberation Serif, serif" font-size="38.7" fill="#262626">
<text x="175" y="1998.6" text-anchor="end">1</text>
<text x="175" y="2119.9" text-anchor="end">0</text>
<text x="175" y="2241.1" text-anchor="end">-1</text>
<text x="213.8" y="2352.6" text-anchor="end">0.5</text>
<text x="299" y="2408.1" text-anchor="end">-0.5</text>
<text transform="translate(436.3,2390.4) rotate(65)" font-size="37.5">-0.5</text>
<text transform="translate(491.8,2369.1) rotate(65)" font-size="37.5">0</text>
<text transform="translate(547.4,2347.8) rotate(65)" font-size="37.5">0.5</text>
<text transform="translate(602.9,2326.5) rotate(65)" font-size="37.5">1</text>
<text transform="translate(658.4,2305.2) rotate(65)" font-size="37.5">1.5</text>
<text transform="translate(714,2283.9) rotate(65)" font-size="37.5">2</text>
<text transform="translate(769.5,2262.6) rotate(65)" font-size="37.5">2.5</text>
<text transform="translate(825,2241.2) rotate(65)" font-size="37.5">3</text>
<text transform="translate(880.6,2219.9) rotate(65)" font-size="37.5">3.5</text>
<text transform="translate(936.1,2198.6) rotate(65)" font-size="37.5">4</text>
<text transform="translate(991.6,2177.3) rotate(65)" font-size="37.5">4.5</text>
<text transform="translate(1047.2,2156) rotate(65)" font-size="37.5">5</text>
</g>
<path d="M201.7,1997.8 L188.3,1989.1 M201.7,2119.1 L188.3,2110.3 M201.7,2240.3 L188.3,2231.6 M244.3,2302.1 L228.4,2308.2 M329.5,2357.6 L313.7,2363.7 M427.7,2364.1 L440.7,2372.6 M483.2,2342.8 L496.2,2351.2 M538.8,2321.5 L551.7,2329.9 M594.3,2300.2 L607.3,2308.6 M649.8,2278.9 L662.8,2287.3 M705.4,2257.6 L718.4,2266 M760.9,2236.3 L773.9,2244.7 M816.4,2214.9 L829.4,2223.4 M872,2193.6 L885,2202.1 M927.5,2172.3 L940.5,2180.8 M983,2151 L996,2159.5 M1038.6,2129.7 L1051.6,2138.2" fill="none" stroke="#333" stroke-width="1.6"/>
<g font-family="Liberation Serif, serif" font-size="42.6" fill="#262626">
<text x="669.5" y="2455.5">x [R<tspan font-size="33" dy="22.5">M</tspan><tspan dy="-22.5">]</tspan></text>
<text x="78.5" y="2463.5">y [R<tspan font-size="33" dy="22.5">M</tspan><tspan dy="-22.5">]</tspan></text>
<text transform="translate(100.6,2133.3) rotate(-90)" text-anchor="middle">z [R<tspan font-size="33" dy="21">M</tspan><tspan dy="-21">]</tspan></text>
</g>
<text x="216.5" y="2019.5" font-family="Liberation Sans, sans-serif" font-weight="bold" font-size="40.5" fill="#000">(c)</text>
<path d="M268.5,2199.5 L273,2207 L279,2214 L286,2221 L300,2230" fill="none" stroke="#000" stroke-width="2.4" stroke-linecap="round"/>
<linearGradient id="jetr" gradientUnits="userSpaceOnUse" x1="600" y1="2000" x2="960" y2="1978.4">
<stop offset="0.0000" stop-color="#0000d1"/>
<stop offset="0.0078" stop-color="#0000e6"/>
<stop offset="0.0746" stop-color="#0061ff"/>
<stop offset="0.1692" stop-color="#00ffff"/>
<stop offset="0.2393" stop-color="#80ff80"/>
<stop offset="0.3314" stop-color="#ffff00"/>
<stop offset="0.4845" stop-color="#ff8000"/>
<stop offset="0.6772" stop-color="#ff0000"/>
<stop offset="0.8319" stop-color="#bd0000"/>
<stop offset="0.9645" stop-color="#8f0000"/>
</linearGradient>
<path d="M609.3,2130.1 L612.2,2125.6 L614.9,2120.9 L617.5,2116.2 L620,2111.4 L622.4,2106.5 L624.6,2101.6 L626.7,2096.6 L628.8,2091.6 L630.8,2086.5 L632.6,2081.4 L634.5,2076.3 L636.2,2071.1 L637.9,2065.9 L639.6,2060.8 L641.2,2055.6 L642.7,2050.4 L644.2,2045.2 L645.6,2040 L647,2034.7 L648.2,2029.5 L649.3,2024.2 L650.3,2019 L651.1,2013.7 L651.9,2008.3 L652.4,2003 L652.9,1997.6 L653.1,1992.2 L653.3,1986.8 L653.3,1981.4 L653.2,1976 L652.9,1970.5 L652.6,1965.1 L652.3,1959.6 L651.8,1954.2 L651.3,1948.8 L650.8,1943.3 L650.3,1937.9 L649.7,1932.5 L649.1,1927.1 L648.5,1921.8 L938.9,1810.9 L947.8,1997.9 L668,2103.5 L640,2115Z" fill="url(#jetr)"/>
<path d="M470,2238 L475.1,2236 L480.1,2234 L485.1,2231.8 L490,2229.6 L494.9,2227.3 L499.8,2224.9 L504.6,2222.4 L509.3,2219.8 L514,2217.1 L518.7,2214.4 L523.3,2211.5 L527.9,2208.6 L532.4,2205.6 L536.8,2202.5 L541.2,2199.3 L545.6,2196.1 L549.9,2192.8 L554.1,2189.4 L558.2,2185.9 L562.4,2182.4 L566.4,2178.8 L570.4,2175.1 L574.3,2171.4 L578.2,2167.5 L582,2163.7 L585.7,2159.7 L589.4,2155.7 L593,2151.6 L596.5,2147.5 L599.9,2143.3 L603.1,2139 L606.3,2134.6 L609.3,2130.1" fill="none" stroke="#000" stroke-width="3.6"/>
<path d="M648.5,1921.8 L647.7,1916.5 L646.7,1911.2 L645.6,1905.9 L644.3,1900.7 L642.6,1895.6 L640.7,1890.5" fill="none" stroke="#000" stroke-width="3.6"/>
<circle cx="398" cy="2133.2" r="139.8" fill="#000"/>
<path d="M357.7,2000.2 L358.4,2000 L359,1999.8 L359.7,1999.6 L360.3,1999.5 L361,1999.3 L361.7,1999.2 L362.4,1999.1 L363,1999 L363.7,1998.9 L364.4,1998.8 L365.1,1998.7 L365.8,1998.6 L366.4,1998.5 L367.1,1998.5 L367.8,1998.4 L368.5,1998.4 L369.2,1998.4 L369.9,1998.4 L370.6,1998.4 L371.3,1998.4 L372,1998.4 L372.7,1998.4 L373.4,1998.5 L374.1,1998.5 L374.9,1998.6 L375.6,1998.6 L376.3,1998.7 L377,1998.8 L377.7,1998.9 L378.4,1999 L379.2,1999.1 L379.9,1999.3 L380.6,1999.4 L381.3,1999.6 L382.1,1999.7 L382.8,1999.9 L383.5,2000.1 L384.3,2000.3 L385,2000.5 L385.7,2000.7 L386.5,2000.9 L387.2,2001.1 L387.9,2001.4 L388.7,2001.6 L389.4,2001.9 L390.1,2002.2 L390.9,2002.5 L391.6,2002.8 L392.4,2003.1 L393.1,2003.4 L393.8,2003.7 L394.6,2004 L395.3,2004.4 L396.1,2004.7 L396.8,2005.1 L397.5,2005.4 L398.3,2005.8 L399,2006.2 L399.8,2006.6 L400.5,2007 L401.3,2007.4 L402,2007.9 L402.7,2008.3 L403.5,2008.8 L404.2,2009.2 L405,2009.7 L405.7,2010.2 L406.4,2010.7 L407.2,2011.1 L407.9,2011.6 L408.6,2012.2 L409.4,2012.7 L410.1,2013.2 L410.8,2013.8 L411.6,2014.3 L412.3,2014.9 L413,2015.4 L413.8,2016 L414.5,2016.6 L415.2,2017.2 L415.9,2017.8 L416.7,2018.4 L417.4,2019 L418.1,2019.7 L418.8,2020.3 L419.6,2021 L420.3,2021.6 L421,2022.3 L421.7,2022.9 L422.4,2023.6 L423.1,2024.3 L423.8,2025 L424.5,2025.7 L425.2,2026.4 L425.9,2027.2 L426.6,2027.9 L427.3,2028.6 L428,2029.4 L428.7,2030.1 L429.4,2030.9 L430.1,2031.7 L430.8,2032.4 L431.5,2033.2 L432.1,2034 L432.8,2034.8 L433.5,2035.6 L434.2,2036.4 L434.8,2037.3 L435.5,2038.1 L436.2,2038.9 L436.8,2039.8 L437.5,2040.6 L438.1,2041.5 L438.8,2042.4 L439.4,2043.2 L440.1,2044.1 L440.7,2045 L441.4,2045.9 L442,2046.8 L442.6,2047.7 L443.3,2048.6 L443.9,2049.5 L444.5,2050.5 L445.1,2051.4 L445.8,2052.3 L446.4,2053.3 L447,2054.2 L447.6,2055.2 L448.2,2056.1 L448.8,2057.1 L449.4,2058.1 L450,2059.1 L450.5,2060 L451.1,2061 L451.7,2062 L452.3,2063 L452.8,2064 L453.4,2065.1 L454,2066.1 L454.5,2067.1 L455.1,2068.1 L455.6,2069.2 L456.2,2070.2 L456.7,2071.2 L457.2,2072.3 L457.8,2073.3 L458.3,2074.4 L458.8,2075.5 L459.3,2076.5 L459.8,2077.6 L460.3,2078.7 L460.8,2079.7 L461.3,2080.8 L461.8,2081.9 L462.3,2083 L462.8,2084.1 L463.3,2085.2 L463.7,2086.3 L464.2,2087.4 L464.7,2088.5 L465.1,2089.6 L465.6,2090.7 L466,2091.8 L466.5,2093 L466.9,2094.1 L467.3,2095.2 L467.8,2096.4 L468.2,2097.5 L468.6,2098.6 L469,2099.8 L469.4,2100.9 L469.8,2102 L470.2,2103.2 L470.6,2104.3 L471,2105.5 L471.4,2106.6 L471.7,2107.8 L472.1,2109 L472.5,2110.1 L472.8,2111.3 L473.2,2112.4 L473.5,2113.6 L473.8,2114.8 L474.2,2115.9 L474.5,2117.1 L474.8,2118.3 L475.1,2119.4 L475.4,2120.6 L475.7,2121.8 L476,2122.9 L476.3,2124.1 L476.6,2125.3 L476.9,2126.5 L477.2,2127.6 L477.4,2128.8 L477.7,2130 L477.9,2131.2 L478.2,2132.4 L478.4,2133.5 L478.7,2134.7 L478.9,2135.9 L479.1,2137.1 L479.3,2138.2 L479.5,2139.4 L479.8,2140.6 L480,2141.8 L480.1,2142.9 L480.3,2144.1 L480.5,2145.3 L480.7,2146.4 L480.9,2147.6 L481,2148.8 L481.2,2150 L481.3,2151.1 L481.5,2152.3 L481.6,2153.5 L481.7,2154.6 L481.8,2155.8 L482,2156.9 L482.1,2158.1 L482.2,2159.2 L482.3,2160.4 L482.4,2161.6 L482.5,2162.7 L482.5,2163.8 L482.6,2165 L482.7,2166.1 L482.7,2167.3 L482.8,2168.4 L482.8,2169.5 L482.9,2170.7 L482.9,2171.8 L482.9,2172.9 L482.9,2174.1 L483,2175.2 L483,2176.3 L483,2177.4 L483,2178.5 L482.9,2179.6 L482.9,2180.7 L482.9,2181.8 L482.9,2182.9 L482.8,2184 L482.8,2185.1 L482.7,2186.2 L482.7,2187.3 L482.6,2188.3 L482.5,2189.4 L482.5,2190.5 L482.4,2191.5 L482.3,2192.6 L482.2,2193.7 L482.1,2194.7 L482,2195.7 L481.9,2196.8 L481.8,2197.8 L481.6,2198.9 L481.5,2199.9 L481.4,2200.9 L481.2,2201.9 L481,2202.9 L480.9,2203.9 L480.7,2204.9 L480.6,2205.9 L480.4,2206.9 L480.2,2207.9 L480,2208.9 L479.8,2209.8 L479.6,2210.8 L479.4,2211.8 L479.2,2212.7 L478.9,2213.7 L478.7,2214.6 L478.5,2215.5 L478.2,2216.5 L478,2217.4 L477.7,2218.3 L477.5,2219.2 L477.2,2220.1 L476.9,2221 L476.7,2221.9 L476.4,2222.8 L476.1,2223.7 L475.8,2224.5 L475.5,2225.4 L475.2,2226.2 L474.9,2227.1 L474.6,2227.9 L474.2,2228.8 L473.9,2229.6 L473.6,2230.4 L473.2,2231.2 L472.9,2232 L472.5,2232.8 L472.2,2233.6 L471.8,2234.4 L471.4,2235.2 L471.1,2235.9 L470.7,2236.7 L470.3,2237.4 L469.9,2238.2 L469.5,2238.9 L469.1,2239.6 L468.7,2240.4 L468.3,2241.1 L467.9,2241.8 L467.4,2242.5 L467,2243.2 L466.6,2243.8 L466.1,2244.5 L465.7,2245.2 L465.2,2245.8 L464.8,2246.5 L464.3,2247.1 L463.8,2247.7 L463.4,2248.3 L462.9,2248.9 L462.4,2249.5 L461.9,2250.1 L461.4,2250.7 L460.9,2251.3 L460.4,2251.8 L459.9,2252.4 L459.4,2252.9 L458.9,2253.5 L458.4,2254 L457.9,2254.5 L457.3,2255 L456.8,2255.5 L456.3,2256 L455.7,2256.5 L455.2,2257 L454.6,2257.4 L454.1,2257.9 L453.5,2258.3 L453,2258.8 L452.4,2259.2 L451.8,2259.6 L451.2,2260 L450.7,2260.4 L450.1,2260.8 L449.5,2261.2 L448.9,2261.5 L448.3,2261.9 L447.7,2262.2 L447.1,2262.6 L446.5,2262.9 L445.9,2263.2 L445.3,2263.5 L444.7,2263.8 L444,2264.1 L443.4,2264.4 L442.8,2264.6 L442.1,2264.9 L441.5,2265.1 L440.9,2265.4 L440.2,2265.6 L439.6,2265.8 L438.9,2266 L438.9,2266 L444.2,2264.3 L449.3,2262.4 L454.4,2260.2 L459.4,2257.9 L464.3,2255.4 L469.1,2252.6 L473.8,2249.7 L478.4,2246.6 L482.8,2243.3 L487.1,2239.9 L491.3,2236.2 L495.3,2232.5 L499.2,2228.5 L502.9,2224.4 L506.4,2220.2 L509.8,2215.8 L513,2211.3 L516,2206.7 L518.8,2202 L521.4,2197.1 L523.9,2192.2 L526.1,2187.1 L528.2,2182 L530,2176.8 L531.6,2171.5 L533,2166.2 L534.2,2160.8 L535.2,2155.4 L536,2149.9 L536.5,2144.4 L536.9,2138.9 L537,2133.4 L536.9,2127.9 L536.6,2122.3 L536,2116.9 L535.3,2111.4 L534.3,2106 L533.1,2100.6 L531.7,2095.2 L530.1,2090 L528.3,2084.7 L526.3,2079.6 L524,2074.6 L521.6,2069.6 L519,2064.7 L516.2,2060 L513.2,2055.4 L510,2050.9 L506.6,2046.5 L503.1,2042.2 L499.4,2038.1 L495.6,2034.2 L491.5,2030.4 L487.4,2026.8 L483.1,2023.3 L478.7,2020 L474.1,2016.9 L469.4,2014 L464.6,2011.2 L459.7,2008.7 L454.8,2006.3 L449.7,2004.2 L444.5,2002.2 L439.3,2000.5 L434,1998.9 L428.6,1997.6 L423.2,1996.5 L417.8,1995.6 L412.3,1994.9 L406.8,1994.5 L401.3,1994.2 L395.8,1994.2 L390.2,1994.4 L384.7,1994.8 L379.3,1995.5 L373.8,1996.3 L368.4,1997.4 L363,1998.7 L357.7,2000.2Z" fill="#fff"/>
<path d="M429,2030.1 L429.7,2030.2 L430.3,2030.3 L431,2030.4 L431.7,2030.5 L432.3,2030.6 L433,2030.6 L433.6,2030.6 L434.3,2030.7 L434.9,2030.7 L435.6,2030.7 L436.2,2030.7 L436.8,2030.7 L437.4,2030.6 L438,2030.6 L438.6,2030.5 L439.2,2030.4 L439.7,2030.3 L440.3,2030.2 L440.8,2030.1 L441.3,2030 L441.8,2029.8 L442.3,2029.7 L442.8,2029.5 L443.3,2029.3 L443.7,2029.1 L444.1,2028.9 L444.5,2028.7 L444.9,2028.5 L445.3,2028.2 L445.6,2028 L445.9,2027.7 L446.2,2027.5 L446.5,2027.2 L446.8,2026.9 L447,2026.6 L447.2,2026.3 L447.4,2026 L447.6,2025.6 L447.7,2025.3 L447.8,2025 L447.9,2024.6 L448,2024.3 L448.1,2023.9 L448.1,2023.6 L448.1,2023.2 L448.1,2022.8 L448,2022.5 L448,2022.1 L447.9,2021.7 L447.8,2021.3 L447.6,2020.9 L447.5,2020.6 L447.3,2020.2 L447.1,2019.8 L446.9,2019.4 L446.6,2019 L446.4,2018.6 L446.1,2018.2 L445.8,2017.8 L445.4,2017.5 L445.1,2017.1 L444.7,2016.7 L444.3,2016.3 L443.9,2015.9 L443.5,2015.6 L443,2015.2 L442.6,2014.9 L442.1,2014.5 L441.6,2014.2 L441.1,2013.8 L440.6,2013.5 L440,2013.2 L439.5,2012.9 L438.9,2012.6 L438.3,2012.3 L437.7,2012 L437.1,2011.7 L436.5,2011.4 L435.9,2011.2 L435.2,2010.9 L434.6,2010.7 L434,2010.4 L433.3,2010.2 L432.7,2010 L432,2009.8 L431.3,2009.6 L430.7,2009.5 L430,2009.3 L429.3,2009.2 L428.6,2009 L428,2008.9 L427.3,2008.8 L426.6,2008.7 L426,2008.6 L425.3,2008.5 L424.6,2008.5 L424,2008.4 L423.3,2008.4 L422.7,2008.4 L422.1,2008.4 L421.4,2008.4 L420.8,2008.4 L420.2,2008.5 L419.6,2008.5 L419,2008.6 L418.5,2008.7 L417.9,2008.8 L417.3,2008.9 L416.8,2009 L416.3,2009.1 L415.8,2009.3 L415.3,2009.4 L414.8,2009.6 L414.4,2009.8 L413.9,2010 L413.5,2010.2 L413.1,2010.4 L412.7,2010.6 L412.4,2010.9 L412,2011.1 L411.7,2011.4 L411.4,2011.6 L411.1,2011.9 L410.9,2012.2 L410.6,2012.5 L410.4,2012.8 L410.2,2013.1 M441.2,2045.1 L442.5,2045.1 L443.7,2045 L444.9,2044.9 L446.1,2044.8 L447.3,2044.7 L448.4,2044.5 L449.5,2044.4 L450.6,2044.2 L451.6,2043.9 L452.7,2043.7 L453.7,2043.4 L454.6,2043.1 L455.6,2042.7 L456.5,2042.4 L457.3,2042 L458.2,2041.6 L458.9,2041.1 L459.7,2040.7 L460.4,2040.2 L461.1,2039.7 L461.7,2039.2 L462.3,2038.7 L462.9,2038.1 L463.4,2037.6 L463.9,2037 L464.3,2036.4 L464.7,2035.7 L465,2035.1 L465.3,2034.5 L465.5,2033.8 L465.7,2033.1 L465.9,2032.4 L466,2031.7 L466,2031 L466,2030.3 L466,2029.5 L465.9,2028.8 L465.8,2028.1 L465.6,2027.3 L465.4,2026.5 L465.1,2025.8 L464.8,2025 L464.5,2024.3 L464.1,2023.5 L463.6,2022.7 L463.1,2021.9 L462.6,2021.2 L462,2020.4 L461.4,2019.6 L460.8,2018.9 L460.1,2018.1 L459.3,2017.4 L458.5,2016.6 L457.7,2015.9 L456.9,2015.2 L456,2014.5 L455.1,2013.8 L454.1,2013.1 L453.2,2012.4 L452.1,2011.7 L451.1,2011.1 L450,2010.4 L448.9,2009.8 L447.8,2009.2 L446.7,2008.6 L445.5,2008 L444.3,2007.5 L443.1,2006.9 L441.9,2006.4 L440.6,2005.9 L439.3,2005.4 L438.1,2005 L436.8,2004.6 L435.5,2004.1 L434.2,2003.8 L432.8,2003.4 L431.5,2003.1 L430.2,2002.7 L428.9,2002.4 L427.5,2002.2 L426.2,2001.9 L424.9,2001.7 L423.5,2001.5 L422.2,2001.4 L420.9,2001.2 L419.6,2001.1 L418.3,2001 L417,2001 L415.8,2001 L414.5,2001 L413.3,2001 L412,2001 L410.8,2001.1 L409.7,2001.2 L408.5,2001.4 L407.4,2001.5 L406.2,2001.7 L405.2,2001.9 L404.1,2002.1 L403.1,2002.4 L402.1,2002.7 L401.1,2003 L400.2,2003.3 L399.3,2003.7 L398.4,2004.1 L397.6,2004.5 L396.8,2004.9 M451.4,2061.1 L453.2,2060.9 L454.9,2060.7 L456.6,2060.5 L458.2,2060.2 L459.8,2059.9 L461.4,2059.6 L462.9,2059.2 L464.3,2058.7 L465.8,2058.3 L467.2,2057.8 L468.5,2057.3 L469.8,2056.7 L471,2056.1 L472.1,2055.5 L473.3,2054.8 L474.3,2054.1 L475.3,2053.4 L476.2,2052.6 L477.1,2051.8 L477.9,2051 L478.7,2050.2 L479.4,2049.3 L480,2048.4 L480.6,2047.5 L481,2046.6 L481.5,2045.6 L481.8,2044.6 L482.1,2043.6 L482.3,2042.6 L482.5,2041.6 L482.6,2040.5 L482.6,2039.4 L482.5,2038.4 L482.4,2037.3 L482.2,2036.2 L482,2035.1 L481.7,2033.9 L481.3,2032.8 L480.8,2031.7 L480.3,2030.6 L479.7,2029.4 L479,2028.3 L478.3,2027.1 L477.5,2026 L476.7,2024.9 L475.8,2023.8 L474.8,2022.6 L473.8,2021.5 L472.7,2020.4 L471.6,2019.3 L470.4,2018.3 L469.1,2017.2 L467.8,2016.1 L466.5,2015.1 L465,2014.1 L463.6,2013.1 L462.1,2012.1 L460.6,2011.1 L459,2010.2 L457.4,2009.2 L455.7,2008.4 L454,2007.5 L452.3,2006.6 L450.5,2005.8 L448.7,2005 L446.9,2004.3 L445.1,2003.5 L443.2,2002.8 L441.3,2002.2 L439.4,2001.5 L437.5,2000.9 L435.6,2000.3 L433.7,1999.8 L431.7,1999.3 L429.7,1998.8 L427.8,1998.4 L425.8,1998 L423.9,1997.7 L421.9,1997.3 L419.9,1997.1 L418,1996.8 L416.1,1996.6 L414.1,1996.5 L412.2,1996.3 L410.3,1996.3 L408.5,1996.2 L406.6,1996.2 L404.8,1996.3 L403,1996.3 L401.2,1996.4 L399.5,1996.6 L397.7,1996.8 L396.1,1997 L394.4,1997.3 L392.8,1997.6 L391.3,1998 L389.8,1998.3 L388.3,1998.8 L386.9,1999.2 L385.5,1999.7 L384.2,2000.2 M461.4,2078.2 L463.6,2077.9 L465.7,2077.5 L467.8,2077.1 L469.8,2076.7 L471.8,2076.2 L473.7,2075.6 L475.5,2075 L477.3,2074.4 L479.1,2073.7 L480.7,2073 L482.3,2072.2 L483.8,2071.4 L485.3,2070.5 L486.6,2069.6 L487.9,2068.7 L489.2,2067.7 L490.3,2066.6 L491.4,2065.6 L492.3,2064.5 L493.2,2063.4 L494,2062.2 L494.8,2061 L495.4,2059.8 L496,2058.5 L496.4,2057.3 L496.8,2055.9 L497.1,2054.6 L497.3,2053.3 L497.4,2051.9 L497.4,2050.5 L497.4,2049.1 L497.2,2047.7 L497,2046.3 L496.6,2044.8 L496.2,2043.4 L495.7,2041.9 L495.1,2040.4 L494.4,2038.9 L493.6,2037.5 L492.8,2036 L491.9,2034.5 L490.8,2033 L489.7,2031.6 L488.5,2030.1 L487.3,2028.7 L486,2027.2 L484.5,2025.8 L483.1,2024.3 L481.5,2022.9 L479.9,2021.5 L478.2,2020.2 L476.4,2018.8 L474.6,2017.5 L472.7,2016.2 L470.8,2014.9 L468.8,2013.6 L466.7,2012.4 L464.6,2011.2 L462.4,2010.1 L460.2,2008.9 M408.3,1994.6 L405.8,1994.4 L403.4,1994.3 L400.9,1994.3 L398.5,1994.3 L396.1,1994.3 L393.8,1994.4 L391.5,1994.6 L389.2,1994.8 L387,1995 L384.8,1995.3 L382.7,1995.7 L380.6,1996.1 L378.6,1996.5 L376.6,1997 L374.7,1997.6 L372.8,1998.2 M469.2,2096.4 L471.8,2096 L474.3,2095.5 L476.8,2095 L479.2,2094.4 L481.5,2093.7 L483.7,2093 L485.9,2092.2 L488,2091.4 L490,2090.5 L491.9,2089.5 L493.8,2088.5 L495.5,2087.5 L497.2,2086.4 L498.8,2085.2 L500.2,2084 L501.6,2082.8 L502.9,2081.5 L504.1,2080.2 L505.2,2078.8 L506.1,2077.4 L507,2076 L507.8,2074.5 L508.5,2073 L509,2071.4 L509.5,2069.9 L509.8,2068.2 L510.1,2066.6 L510.2,2065 L510.2,2063.3 L510.2,2061.6 L510,2059.9 L509.7,2058.1 L509.3,2056.4 L508.8,2054.6 L508.1,2052.8 L507.4,2051 L506.6,2049.3 L505.7,2047.5 L504.6,2045.7 L503.5,2043.9 L502.2,2042.1 L500.9,2040.3 L499.5,2038.6 L498,2036.8 L496.3,2035 L494.6,2033.3 M366.3,1997.9 L363.9,1998.5 L361.6,1999.1 M476.4,2115.2 L479.3,2114.7 L482.1,2114 L484.9,2113.3 L487.6,2112.6 L490.2,2111.7 L492.7,2110.8 L495.1,2109.9 L497.4,2108.8 L499.6,2107.8 L501.8,2106.6 L503.8,2105.4 L505.7,2104.1 L507.5,2102.8 L509.2,2101.4 L510.8,2100 L512.3,2098.5 L513.7,2097 L514.9,2095.4 L516,2093.8 L517.1,2092.1 L517.9,2090.4 L518.7,2088.7 L519.4,2086.9 L519.9,2085 L520.3,2083.2 L520.6,2081.3 L520.7,2079.4 L520.8,2077.5 L520.7,2075.5 L520.5,2073.5 L520.1,2071.5 L519.6,2069.5 L519.1,2067.4 L518.3,2065.4 L517.5,2063.3 L516.5,2061.3 L515.5,2059.2 L514.3,2057.2 L513,2055.1 M479.4,2134.8 L482.6,2134.2 L485.8,2133.5 L488.9,2132.7 L491.8,2131.9 L494.7,2130.9 L497.5,2129.9 L500.2,2128.9 L502.8,2127.7 L505.3,2126.5 L507.6,2125.2 L509.9,2123.9 L512,2122.5 L514,2121 L515.9,2119.5 L517.7,2117.9 L519.4,2116.2 L520.9,2114.5 L522.3,2112.8 L523.5,2110.9 L524.7,2109.1 L525.7,2107.2 L526.5,2105.2 L527.2,2103.2 L527.8,2101.2 L528.3,2099.2 L528.6,2097.1 L528.8,2094.9 L528.8,2092.8 L528.7,2090.6 L528.4,2088.4 L528.1,2086.1 L527.5,2083.9 L526.9,2081.6 L526.1,2079.4 L525.2,2077.1 M484.3,2153.7 L487.7,2152.9 L491,2152.1 L494.2,2151.2 L497.3,2150.2 L500.3,2149.1 L503.2,2147.9 L506,2146.7 L508.7,2145.4 L511.3,2144 L513.7,2142.5 L516,2141 L518.2,2139.4 L520.2,2137.8 L522.2,2136 L524,2134.3 L525.6,2132.4 L527.1,2130.5 L528.5,2128.6 L529.7,2126.5 L530.8,2124.5 L531.7,2122.4 L532.5,2120.2 L533.1,2118 L533.6,2115.8 L533.9,2113.5 L534.1,2111.2 L534.2,2108.9 L534,2106.5 L533.8,2104.2 L533.4,2101.7 M484.1,2172.8 L487.7,2172 L491.2,2171.1 L494.6,2170.1 L497.9,2169.1 L501.1,2167.9 L504.1,2166.7 L507.1,2165.4 L509.9,2164 L512.6,2162.6 L515.2,2161 L517.6,2159.4 L519.9,2157.7 L522.1,2156 L524.1,2154.2 L526,2152.3 L527.7,2150.3 L529.3,2148.3 L530.7,2146.3 L532,2144.1 L533.2,2142 L534.1,2139.8 L535,2137.5 L535.6,2135.2 L536.2,2132.8 L536.5,2130.4 L536.7,2128 L536.7,2125.5 M485.9,2190.3 L489.5,2189.3 L493,2188.3 L496.4,2187.2 L499.7,2186.1 L502.9,2184.8 L505.9,2183.4 L508.8,2182 L511.6,2180.5 L514.3,2178.9 L516.8,2177.3 L519.2,2175.5 L521.4,2173.7 L523.5,2171.9 L525.4,2169.9 L527.2,2167.9 L528.8,2165.8 L530.3,2163.7 L531.7,2161.5 L532.8,2159.3 L533.8,2157 L534.7,2154.7 L535.4,2152.3 L535.9,2149.8 L536.3,2147.4 M482.4,2207.3 L486,2206.4 L489.5,2205.4 L493,2204.3 L496.3,2203.1 L499.5,2201.8 L502.5,2200.5 L505.5,2199 L508.3,2197.5 L511,2195.9 L513.5,2194.2 L515.9,2192.5 L518.2,2190.7 L520.3,2188.8 L522.2,2186.8 L524.1,2184.8 L525.7,2182.7 L527.2,2180.5 L528.5,2178.3 L529.7,2176.1 L530.8,2173.8 L531.6,2171.4 M477.1,2222.9 L480.7,2222 L484.2,2221 L487.6,2219.9 L490.9,2218.7 L494,2217.5 L497.1,2216.1 L500,2214.7 L502.8,2213.2 L505.4,2211.6 L507.9,2209.9 L510.3,2208.2 L512.5,2206.4 L514.6,2204.5 L516.5,2202.6 L518.3,2200.6 L520,2198.5 L521.5,2196.4 L522.8,2194.2 L524,2192 M473.7,2235.8 L477.1,2234.8 L480.4,2233.8 L483.5,2232.6 L486.6,2231.4 L489.5,2230.1 L492.4,2228.7 L495.1,2227.3 L497.6,2225.7 L500.1,2224.1 L502.4,2222.4 L504.5,2220.7 L506.6,2218.9 L508.4,2217 L510.2,2215 L511.8,2213 M465.1,2247.5 L468.3,2246.6 L471.5,2245.6 L474.5,2244.5 L477.4,2243.3 L480.2,2242.1 L482.8,2240.8 L485.4,2239.4 L487.8,2237.9 L490.1,2236.4 L492.3,2234.8 L494.4,2233.2 L496.3,2231.4 M458.2,2256 L461.1,2255.1 L463.9,2254.1 L466.5,2253 L469.1,2251.9 L471.6,2250.7 L474,2249.4 L476.2,2248 L478.3,2246.6 M446.8,2263 L449.4,2262.1 L451.9,2261.2 L454.3,2260.3 M421.5,2020.2 L425.3,2019.2 L429.1,2018.4 M424.4,2022.2 L426.8,2020.2 L429.1,2018.4 M424.7,2025.5 L426.2,2023 M427.6,2026.4 L428.2,2023.6 L428.7,2020.9 L429.1,2018.4 M431,2030 L430.6,2026.9 L430.1,2024 M438.6,2040.7 L437.4,2037.2 L436.1,2033.7 L434.8,2030.4 L433.5,2027.2 L432.1,2024.1 L430.6,2021.2 L429.1,2018.4 M463.1,2083.9 L461.8,2079.5 L460.4,2075.2 L458.9,2071 L457.3,2066.8 L455.7,2062.7 L454,2058.7 L452.3,2054.8 L450.4,2050.9 L448.6,2047.2 L446.6,2043.5 L444.6,2040 L442.6,2036.6 L440.5,2033.3 L438.3,2030.1 L436.1,2027 L433.9,2024 M442.2,2264.9 L445.2,2263.7 L448.1,2262.3 L451,2260.8 L453.8,2259.1 L456.5,2257.3 L459.1,2255.3 L461.7,2253.1 L464.2,2250.9 L466.6,2248.4 L469,2245.9 L471.2,2243.2 L473.4,2240.3 L475.4,2237.4 L477.4,2234.3 L479.3,2231 L481.1,2227.7 L482.7,2224.2 L484.3,2220.7 L485.8,2217 L487.1,2213.2 L488.4,2209.4 L489.5,2205.4 L490.6,2201.4 L491.5,2197.2 L492.3,2193 L493,2188.7 L493.6,2184.4 L494,2180 L494.4,2175.5 L494.6,2171 L494.7,2166.4 L494.7,2161.8 L494.5,2157.1 L494.3,2152.5 L493.9,2147.8 L493.4,2143 L492.8,2138.3 L492.1,2133.6 L491.3,2128.9 L490.4,2124.1 L489.3,2119.4 L488.1,2114.7 L486.9,2110 L485.5,2105.4 L484,2100.8 L482.4,2096.2 L480.7,2091.7 L478.9,2087.2 L477,2082.7 L475,2078.4 L472.9,2074.1 L470.7,2069.9 L468.5,2065.7 L466.1,2061.6 L463.7,2057.7 L461.2,2053.8 L458.6,2050 L455.9,2046.3 L453.2,2042.7 L450.4,2039.3 L447.5,2035.9 L444.6,2032.7 L441.6,2029.5 L438.5,2026.6 L435.4,2023.7 L432.3,2021 L429.1,2018.4 M467,2253.8 L470.1,2252 L473.1,2250 L476,2247.8 L478.8,2245.6 L481.6,2243.2 L484.2,2240.6 L486.7,2238 L489.2,2235.2 L491.5,2232.3 L493.7,2229.3 L495.8,2226.2 L497.8,2222.9 L499.6,2219.6 L501.4,2216.2 L503,2212.6 L504.5,2209 L505.9,2205.3 L507.2,2201.5 L508.3,2197.6 L509.3,2193.6 L510.2,2189.6 L510.9,2185.5 L511.5,2181.4 L512,2177.2 L512.3,2172.9 L512.5,2168.6 L512.6,2164.3 L512.6,2159.9 L512.4,2155.5 L512,2151 L511.6,2146.6 L511,2142.1 L510.3,2137.6 L509.4,2133.1 L508.5,2128.6 L507.3,2124.1 L506.1,2119.7 L504.7,2115.2 L503.3,2110.8 L501.7,2106.4 L499.9,2102 L498.1,2097.6 L496.1,2093.3 L494,2089.1 L491.8,2084.9 L489.5,2080.7 L487.1,2076.6 L484.6,2072.6 L482,2068.7 L479.3,2064.8 L476.5,2061 L473.6,2057.3 L470.6,2053.6 L467.6,2050.1 L464.4,2046.7 L461.2,2043.3 L457.9,2040.1 L454.5,2037 L451.1,2034 L447.6,2031.1 L444,2028.3 L440.4,2025.7 L436.8,2023.1 M501.5,2225.9 L504.1,2222.8 L506.5,2219.7 L508.8,2216.4 L511,2213 L513.1,2209.5 L515,2205.9 L516.7,2202.3 L518.3,2198.5 L519.8,2194.7 L521.1,2190.8 L522.2,2186.8 L523.3,2182.8 L524.1,2178.7 L524.8,2174.5 L525.4,2170.3 L525.8,2166 L526,2161.8 L526.1,2157.4 L526,2153.1 L525.8,2148.7 L525.4,2144.3 L524.9,2139.9 L524.2,2135.5 L523.3,2131 L522.3,2126.6 L521.2,2122.2 L519.9,2117.8 L518.4,2113.4 L516.8,2109.1 L515.1,2104.7 L513.2,2100.5 L511.2,2096.2 L509,2092 L506.7,2087.8 L504.3,2083.7 L501.7,2079.7 L499,2075.7 L496.2,2071.8 L493.3,2068 L490.2,2064.2 L487.1,2060.6 L483.8,2057 L480.4,2053.5 L477,2050.1 L473.4,2046.8 L469.8,2043.6 L466,2040.6 L462.2,2037.6 L458.3,2034.8 L454.3,2032 L450.2,2029.4 L446.1,2027 L442,2024.6 L437.7,2022.4 L433.5,2020.3 L429.1,2018.4 M528.3,2181.6 L529.6,2177.7 L530.7,2173.8 L531.7,2169.9 L532.6,2165.9 L533.2,2161.9 L533.7,2157.8 L534.1,2153.8 L534.3,2149.6 L534.4,2145.5 L534.2,2141.4 L534,2137.2 L533.5,2133.1 L532.9,2128.9 L532.2,2124.8 L531.3,2120.6 L530.2,2116.5 L529,2112.4 L527.6,2108.3 L526.1,2104.3 L524.5,2100.2 L522.7,2096.3 L520.7,2092.3 L518.6,2088.4 L516.4,2084.6 L514,2080.8 L511.5,2077.1 L508.8,2073.4 L506,2069.8 L503.1,2066.3 L500.1,2062.9 L497,2059.5 L493.7,2056.3 L490.3,2053.1 L486.9,2050 L483.3,2047 L479.6,2044.2 L475.8,2041.4 L472,2038.7 L468,2036.1 L464,2033.7 L459.9,2031.3 L455.7,2029.1 L451.4,2027 L447.1,2025.1 L442.7,2023.2 L438.3,2021.5 M537,2130.4 L536.8,2126.3 L536.5,2122.2 L535.9,2118.1 L535.3,2114 L534.4,2110 L533.4,2106 L532.2,2102 L530.9,2098.1 L529.4,2094.2 L527.7,2090.3 L525.9,2086.5 L523.9,2082.8 L521.8,2079.1 L519.5,2075.5 L517.1,2071.9 L514.5,2068.5 L511.8,2065.1 L508.9,2061.8 L505.9,2058.6 L502.8,2055.4 L499.6,2052.4 L496.2,2049.5 L492.7,2046.6 L489.1,2043.9 L485.4,2041.3 L481.5,2038.8 L477.6,2036.4 L473.6,2034.1 L469.5,2031.9 L465.3,2029.9 L461,2028 L456.6,2026.2 L452.2,2024.6 L447.7,2023.1 L443.1,2021.7 L438.5,2020.5 L433.8,2019.3 L429.1,2018.4 M527.2,2082 L525.7,2078.5 L524.1,2075.1 L522.3,2071.7 L520.3,2068.4 L518.2,2065.2 L516,2062.1 L513.6,2059 L511.1,2056.1 L508.5,2053.2 L505.7,2050.4 L502.8,2047.7 L499.8,2045.1 L496.7,2042.6 L493.4,2040.3 L490.1,2038 L486.6,2035.8 L483.1,2033.8 L479.4,2031.9 L475.6,2030 L471.8,2028.3 L467.8,2026.8 L463.8,2025.3 L459.7,2024 L455.6,2022.8 L451.3,2021.8 L447,2020.8 L442.7,2020 L438.3,2019.3 M510.4,2051.5 L508.3,2048.7 L506,2046 L503.6,2043.5 L501.1,2041 L498.4,2038.7 L495.6,2036.4 L492.7,2034.3 L489.7,2032.3 L486.6,2030.5 L483.4,2028.7 L480,2027.1 L476.6,2025.6 L473,2024.3 L469.4,2023 L465.7,2022 L461.9,2021 L458,2020.2 L454.1,2019.5 L450.1,2019 L446,2018.6 L441.8,2018.3 L437.7,2018.2 L433.4,2018.2 L429.1,2018.4 M490.9,2029.9 L488.7,2028.1 L486.3,2026.4 L483.8,2024.8 L481.3,2023.4 L478.6,2022 L475.8,2020.9 L473,2019.8 L470.1,2018.9 L467,2018.1 L463.9,2017.4 L460.7,2016.9 L457.5,2016.5 L454.2,2016.3 L450.8,2016.2 L447.3,2016.2 L443.8,2016.3 L440.3,2016.6 L436.7,2017.1 M474,2016.9 L472,2015.8 L469.8,2014.9 L467.6,2014.1 L465.3,2013.4 L462.9,2012.9 L460.5,2012.6 L458,2012.4 L455.3,2012.3 L452.7,2012.4 L449.9,2012.7 L447.1,2013 L444.2,2013.6 L441.3,2014.2 L438.3,2015.1 L435.3,2016 L432.2,2017.1 L429.1,2018.4 M459.3,2008.5 L457.9,2008 L456.4,2007.7 L454.8,2007.5 L453.2,2007.5 L451.5,2007.6 L449.7,2007.8 L447.9,2008.2 L446,2008.8 L444.1,2009.5 L442.1,2010.3 L440.1,2011.3 L438,2012.4 L435.9,2013.7 L433.7,2015.1 M445.3,2002.6 L444.6,2002.5 L443.8,2002.6 L443,2002.9 L442.1,2003.4 L441.2,2004 L440.2,2004.7 L439.1,2005.6 L438.1,2006.7 L436.9,2007.9 L435.7,2009.3 L434.5,2010.8 L433.2,2012.5 L431.9,2014.3 L430.5,2016.3 L429.1,2018.4 M431.5,1998.4 L431.6,1998.6 L431.7,1999 L431.7,1999.6 L431.7,2000.3 L431.7,2001.2 L431.6,2002.3 L431.5,2003.5 L431.3,2004.8 L431.1,2006.3 L430.9,2007.9 L430.6,2009.7 L430.3,2011.6 L430,2013.7 M417.3,1995.6 L418.3,1996 L419.2,1996.6 L420.2,1997.3 L421.1,1998.2 L422,1999.2 L422.9,2000.4 L423.7,2001.8 L424.5,2003.3 L425.3,2005 L426,2006.9 L426.7,2008.9 L427.4,2011 L428,2013.3 L428.6,2015.8 L429.1,2018.4 M400.4,1994.2 L402.2,1994.4 L404,1994.7 L405.8,1995.2 L407.6,1995.8 L409.4,1996.6 L411.1,1997.6 L412.9,1998.7 L414.6,2000 L416.3,2001.4 L418,2003 L419.7,2004.8 L421.3,2006.7 L422.9,2008.7 L424.5,2010.9 L426.1,2013.2 M382.8,1995.1 L385.4,1995 L388,1995.1 L390.6,1995.3 L393.2,1995.7 L395.8,1996.3 L398.5,1997 L401.1,1997.9 L403.7,1999 L406.4,2000.2 L409,2001.6 L411.6,2003.2 L414.2,2004.9 L416.7,2006.8 L419.3,2008.8 L421.8,2011 L424.3,2013.3 L426.7,2015.8 L429.1,2018.4 M358.2,2000 L361.2,1999.2 L364.3,1998.6 L367.4,1998.1 L370.5,1997.8 L373.7,1997.6 L376.9,1997.6 L380.1,1997.7 L383.4,1998 L386.7,1998.5 L390,1999.1 L393.2,1999.9 L396.5,2000.8 L399.8,2001.9 L403.1,2003.1 L406.4,2004.5 L409.7,2006 L413,2007.7 L416.2,2009.5 L419.5,2011.5 L422.7,2013.6 M397.5,2005.1 L401.5,2006.2 L405.5,2007.5 L409.5,2009 L413.5,2010.5 L417.4,2012.3 L421.4,2014.2 L425.3,2016.2 L429.1,2018.4 M407.4,2010.9 L411.7,2012.1 L416.1,2013.4 L420.4,2014.9 M415.1,2014.8 L419.8,2015.8 L424.5,2017 L429.1,2018.4 M414.9,2016.3 L419.6,2016.9 M419.8,2018 L424.5,2018.1 L429.1,2018.4" fill="none" stroke="#000" stroke-width="1.9"/>
<circle cx="398" cy="2133.2" r="139" fill="none" stroke="#000" stroke-width="1.8"/>
<rect x="1167.8" y="1733.4" width="40.7" height="652.8" fill="url(#jetv)" stroke="#333" stroke-width="1.2"/>
<g font-family="Liberation Serif, serif" font-size="35" fill="#262626">
<text x="1221" y="2400">346</text>
<text x="1221" y="2291.2">347</text>
<text x="1221" y="2182.4">348</text>
<text x="1221" y="2073.6">349</text>
<text x="1221" y="1964.8">350</text>
<text x="1221" y="1856">351</text>
<text x="1221" y="1747.2">352</text>
</g>
<path d="M1208.5,2277.4 h-6 M1208.5,2168.6 h-6 M1208.5,2059.8 h-6 M1208.5,1951 h-6 M1208.5,1842.2 h-6" stroke="#333" stroke-width="1.5" fill="none"/>
<text transform="translate(1321.5,2059.5) rotate(-90)" text-anchor="middle" font-family="Liberation Serif, serif" font-size="38.5" fill="#262626">V [km/s]</text>
</g>
</svg>
</body></html>
